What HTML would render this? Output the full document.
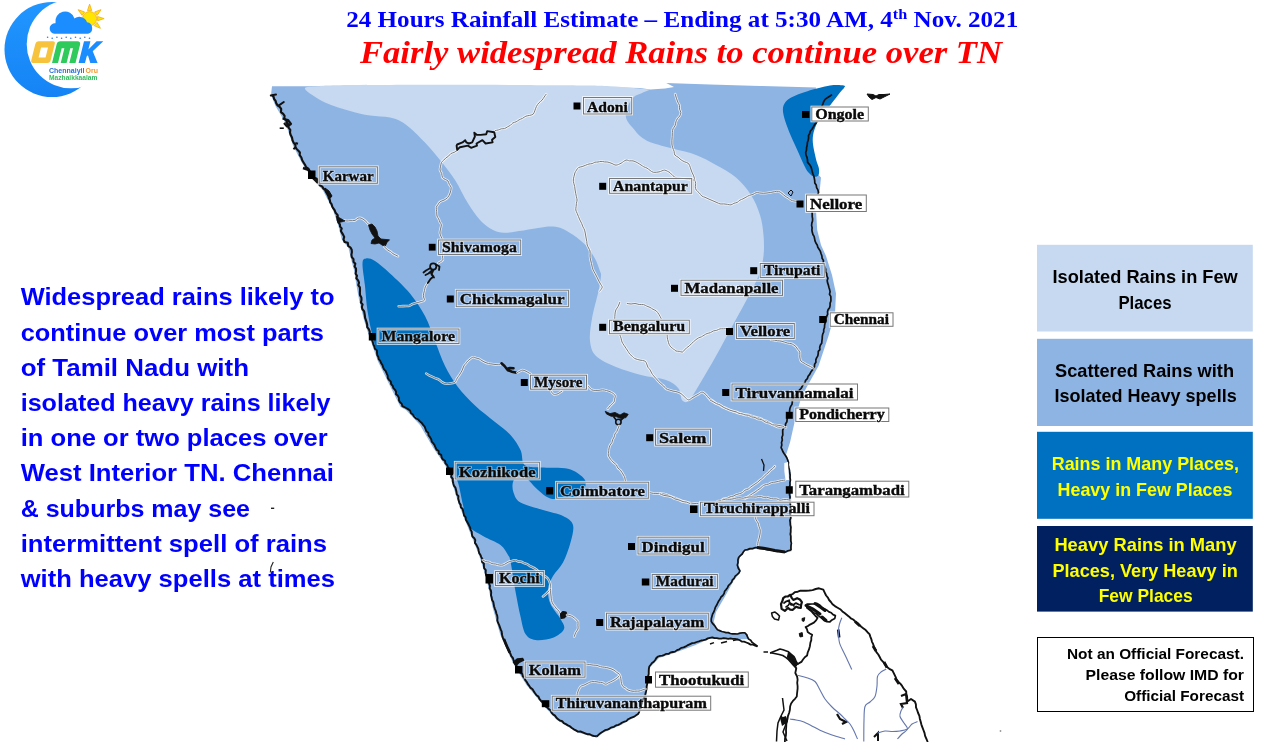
<!DOCTYPE html>
<html><head><meta charset="utf-8"><title>Rainfall Estimate</title>
<style>
html,body{margin:0;padding:0;background:#fff;}
body{width:1266px;height:745px;overflow:hidden;font-family:"Liberation Sans",sans-serif;}
svg{display:block;will-change:transform;}
text{font-family:"Liberation Sans",sans-serif;}
.sf{font-family:"Liberation Serif",serif;}
</style></head><body>
<svg width="1266" height="745" viewBox="0 0 1266 745">
<rect width="1266" height="745" fill="#fff"/>
<path d="M272.0 86.3 L305.0 86.3 L400.0 86.0 L560.0 86.0 L640.0 88.0 L650.4 89.6 L665.0 88.5 L674.0 87.0 L666.2 83.1 L710.0 84.6 L760.0 86.0 L816.0 87.5 L812.0 110.0 L808.0 130.0 L806.0 150.0 L810.0 166.0 L821.0 177.5 L819.8 190.0 L816.0 210.0 L817.2 230.0 L821.0 245.0 L826.0 256.0 L832.0 275.0 L836.0 293.5 L835.0 313.5 L828.5 336.0 L818.5 366.0 L806.0 388.5 L800.5 400.0 L795.5 418.0 L790.0 442.5 L786.0 455.0 L788.5 460.0 L791.0 475.0 L791.0 490.0 L791.5 525.0 L792.0 551.0 L785.0 553.0 L770.0 551.0 L757.5 548.5 L745.0 551.0 L739.8 557.5 L738.5 565.0 L741.0 571.0 L733.5 581.0 L725.0 596.5 L716.0 612.0 L713.8 621.5 L717.5 630.0 L735.0 634.0 L747.5 634.0 L749.0 639.0 L735.0 639.5 L710.0 638.5 L695.0 645.2 L675.0 652.8 L659.0 658.0 L650.2 667.0 L649.0 679.0 L646.5 694.0 L639.0 714.5 L621.0 725.0 L603.5 732.5 L596.8 737.5 L577.5 732.5 L557.0 720.0 L543.0 705.0 L526.5 685.0 L515.2 667.0 L509.0 654.5 L500.2 634.5 L492.5 607.0 L486.5 579.0 L479.0 555.0 L469.0 530.0 L459.0 505.0 L449.0 473.0 L445.0 465.0 L433.0 447.5 L420.0 425.0 L406.0 410.0 L400.5 407.0 L390.5 387.0 L378.0 361.5 L369.0 336.0 L364.0 320.0 L359.2 300.5 L356.5 285.5 L354.4 271.5 L351.2 259.7 L348.5 248.0 L341.9 239.8 L338.0 224.5 L333.0 210.0 L323.0 190.5 L310.5 176.0 L302.0 163.0 L293.0 145.5 L285.5 123.0 L275.5 106.0 L271.0 95.0Z" fill="#8eb4e3"/>
<path d="M305.0 89.0 C303.8 86.3 312.2 86.9 318.0 86.3 C323.8 85.7 318.0 85.5 340.0 85.2 C362.0 85.0 413.3 84.8 450.0 84.8 C486.7 84.8 533.3 85.1 560.0 85.3 C586.7 85.5 594.9 85.5 610.0 86.2 C625.1 86.9 643.7 89.0 650.4 89.6 C648.8 90.2 643.8 92.3 641.0 93.5 C638.2 94.7 635.8 95.0 633.8 96.9 C631.7 98.8 629.8 102.0 628.5 105.0 C627.2 108.0 625.9 112.2 625.8 115.0 C625.7 117.8 626.7 119.7 628.0 122.0 C629.3 124.3 631.8 126.7 633.8 129.0 C635.8 131.3 637.1 133.8 640.0 136.0 C642.9 138.2 645.4 140.4 651.0 142.5 C656.6 144.6 666.0 146.7 673.5 148.8 C681.0 150.8 688.9 152.3 696.0 155.0 C703.1 157.7 709.3 161.2 716.0 165.0 C722.7 168.8 730.2 172.5 736.0 177.5 C741.8 182.5 747.0 188.8 751.0 195.0 C755.0 201.2 757.9 208.3 760.0 215.0 C762.1 221.7 762.9 228.2 763.5 235.0 C764.1 241.8 764.3 249.2 763.5 256.0 C762.7 262.8 761.4 268.5 758.5 276.0 C755.6 283.5 750.6 292.2 746.0 301.0 C741.4 309.8 736.0 319.3 731.0 328.5 C726.0 337.7 721.4 346.4 716.0 356.0 C710.6 365.6 703.1 378.5 698.5 386.0 C693.9 393.5 691.2 398.7 688.5 401.0 C685.8 403.3 683.7 402.1 682.0 400.0 C680.3 397.9 681.2 391.8 678.5 388.5 C675.8 385.2 672.2 382.2 666.0 380.0 C659.8 377.8 649.3 377.2 641.0 375.0 C632.7 372.8 623.5 370.2 616.0 367.0 C608.5 363.8 600.3 360.3 596.0 356.0 C591.7 351.7 590.7 347.2 590.0 341.0 C589.3 334.8 590.6 326.8 592.0 318.5 C593.4 310.2 597.0 298.1 598.5 291.0 C600.0 283.9 600.8 279.4 601.0 276.0 C601.2 272.6 600.9 273.8 599.9 270.9 C598.9 267.9 597.1 262.5 594.8 258.3 C592.5 254.1 589.6 249.5 586.0 245.6 C582.4 241.7 577.5 237.8 573.3 234.9 C569.1 232.0 564.5 229.3 560.7 227.9 C556.9 226.5 554.4 226.4 550.6 226.4 C546.8 226.4 543.2 227.1 537.9 227.9 C532.6 228.7 524.6 230.3 519.0 231.1 C513.4 231.9 508.3 233.0 504.0 232.8 C499.7 232.6 497.0 232.1 493.0 230.0 C489.0 227.9 484.2 224.6 480.0 220.0 C475.8 215.4 471.7 209.2 467.5 202.5 C463.3 195.8 459.6 187.1 455.0 180.0 C450.4 172.9 445.0 166.2 440.0 160.0 C435.0 153.8 430.8 148.5 425.0 142.5 C419.2 136.5 410.8 128.2 405.0 124.0 C399.2 119.8 395.8 118.9 390.0 117.5 C384.2 116.1 376.7 116.6 370.0 115.5 C363.3 114.4 357.5 113.2 350.0 111.0 C342.5 108.8 332.5 106.2 325.0 102.5 C317.5 98.8 306.2 91.7 305.0 89.0Z" fill="#c6d9f1"/>
<path d="M366.0 258.5 C368.1 258.1 371.0 258.5 375.0 261.0 C379.0 263.5 384.2 268.1 390.0 273.5 C395.8 278.9 404.2 286.4 410.0 293.5 C415.8 300.6 420.8 308.1 425.0 316.0 C429.2 323.9 431.7 332.7 435.0 341.0 C438.3 349.3 441.2 358.4 445.0 366.0 C448.8 373.6 452.5 379.9 457.5 386.5 C462.5 393.1 468.8 399.6 475.0 405.5 C481.2 411.4 489.1 417.1 495.0 422.0 C500.9 426.9 506.2 430.3 510.5 435.0 C514.8 439.7 518.4 445.4 520.5 450.0 C522.6 454.6 521.8 459.8 523.0 462.5 C524.2 465.2 525.1 465.7 528.0 466.5 C530.9 467.3 533.8 467.1 540.5 467.5 C547.2 467.9 560.9 467.1 568.0 468.8 C575.1 470.4 580.1 474.8 583.0 477.5 C585.9 480.2 586.0 482.1 585.5 485.0 C585.0 487.9 584.6 492.7 580.0 495.0 C575.4 497.3 563.3 498.3 558.0 498.8 C552.7 499.2 551.3 499.0 548.0 497.5 C544.7 496.0 541.8 493.3 538.0 490.0 C534.2 486.7 528.8 479.8 525.5 477.5 C522.2 475.2 520.1 475.2 518.0 476.0 C515.9 476.8 513.8 479.2 513.0 482.0 C512.2 484.8 512.2 489.1 513.5 492.5 C514.8 495.9 515.6 499.6 520.5 502.5 C525.4 505.4 535.9 507.8 543.0 510.0 C550.1 512.2 558.0 513.5 563.0 516.0 C568.0 518.5 571.8 520.6 573.0 525.0 C574.2 529.4 572.2 536.2 570.5 542.5 C568.8 548.8 565.9 556.9 563.0 562.5 C560.1 568.1 555.5 571.6 553.0 576.0 C550.5 580.4 548.4 584.3 548.0 589.0 C547.6 593.7 548.4 599.0 550.5 604.0 C552.6 609.0 558.2 614.8 560.5 619.0 C562.8 623.2 565.2 625.9 564.0 629.0 C562.8 632.1 557.8 635.9 553.0 637.8 C548.2 639.6 540.1 640.6 535.5 640.0 C530.9 639.4 528.0 637.9 525.5 634.0 C523.0 630.1 522.2 623.6 520.5 616.5 C518.8 609.4 517.2 600.7 515.5 591.5 C513.8 582.3 511.8 567.6 510.5 561.5 C509.2 555.4 509.7 557.8 508.0 555.0 C506.3 552.2 504.7 548.2 500.5 545.0 C496.3 541.8 488.4 539.3 483.0 536.0 C477.6 532.7 471.3 530.2 468.0 525.0 C464.7 519.8 464.7 512.1 463.0 505.0 C461.3 497.9 459.8 488.0 458.0 482.5 C456.2 477.0 453.8 474.9 452.0 472.0 C450.2 469.1 449.8 469.1 447.0 465.0 C444.2 460.9 439.5 454.2 435.5 447.5 C431.5 440.8 427.6 431.4 423.0 425.0 C418.4 418.6 411.4 412.2 408.0 409.0 C404.6 405.8 405.1 409.8 402.5 406.0 C399.9 402.2 396.2 393.5 392.5 386.0 C388.8 378.5 383.3 369.3 380.0 361.0 C376.7 352.7 374.6 344.3 372.5 336.0 C370.4 327.7 368.8 319.3 367.5 311.0 C366.2 302.7 365.8 293.9 365.0 286.0 C364.2 278.1 362.3 268.1 362.5 263.5 C362.7 258.9 363.9 258.9 366.0 258.5Z" fill="#0070c0"/>
<path d="M843.8 85.6 C841.4 85.2 836.0 84.7 830.0 85.6 C824.0 86.5 814.0 89.3 807.5 91.2 C801.0 93.2 795.1 95.4 791.2 97.5 C787.4 99.6 785.8 101.2 784.4 103.8 C783.0 106.2 782.6 108.5 783.1 112.5 C783.6 116.5 785.5 122.1 787.5 127.5 C789.5 132.9 792.2 138.8 795.0 145.0 C797.8 151.2 801.8 160.4 804.0 165.0 C806.2 169.6 806.9 170.6 808.5 172.5 C810.1 174.4 811.9 176.0 813.5 176.5 C815.1 177.0 817.4 176.8 818.3 175.5 C819.2 174.2 819.3 171.6 819.0 169.0 C818.7 166.4 817.2 164.0 816.2 160.0 C815.3 156.0 813.6 149.2 813.1 145.0 C812.6 140.8 812.6 138.3 813.1 135.0 C813.6 131.7 814.8 128.3 816.2 125.0 C817.7 121.7 819.7 118.2 822.0 115.0 C824.3 111.8 827.0 109.3 830.0 105.6 C833.0 101.8 837.7 95.4 840.0 92.5 C842.3 89.6 843.4 89.2 844.0 88.0 C844.6 86.8 846.1 86.0 843.8 85.6Z" fill="#0070c0"/>
<path d="M272.0 95.0 L273.6 96.7 L274.1 99.0 L275.6 100.9 L276.2 103.1 L277.4 105.1 L279.7 106.8 L281.2 108.9 L281.0 112.1 L283.2 113.9 L284.6 115.9 L284.3 118.8 L286.4 120.3 L287.2 122.6 L288.3 125.0 L288.6 127.6 L290.3 129.8 L290.0 132.6 L290.7 135.1 L292.0 137.5 L292.5 140.2 L293.6 142.6 L295.4 144.9 L295.5 147.3 L296.8 149.1 L298.4 150.8 L299.9 152.5 L299.7 155.1 L301.4 157.5 L302.2 160.2 L303.7 162.7 L305.0 164.8 L306.1 167.2 L308.4 168.6 L309.1 171.2 L311.2 172.8 L312.2 175.2 L313.5 177.5 L316.4 178.4 L318.0 180.5 L319.2 182.8 L319.7 185.4 L322.1 186.4 L323.3 188.4 L325.1 189.9 L326.0 192.0 L327.2 193.9 L328.3 195.9 L328.8 198.1 L329.9 200.0 L330.2 202.4 L331.6 204.2 L332.2 206.4 L333.3 208.4 L334.6 210.2 L335.6 212.8 L337.7 215.1 L337.7 218.1 L337.7 220.4 L338.5 222.5 L339.9 224.3 L340.1 226.6 L341.7 228.4 L340.9 230.9 L342.0 232.9 L343.2 234.9 L344.2 236.9 L343.5 239.4 L344.6 242.0 L347.8 242.8 L348.2 245.9 L350.5 247.5 L351.7 249.7 L351.9 252.1 L351.4 254.7 L351.8 257.1 L353.5 259.2 L353.5 261.7 L355.3 263.8 L354.6 266.5 L356.0 268.6 L356.0 271.2 L355.6 273.6 L357.0 275.8 L356.3 278.3 L358.1 280.4 L359.0 282.6 L358.3 285.1 L359.9 287.4 L360.0 290.0 L359.9 292.6 L360.0 295.1 L361.4 297.5 L361.5 300.0 L360.9 302.5 L362.6 304.4 L361.8 307.0 L362.4 309.2 L364.1 311.1 L364.5 313.3 L364.9 315.6 L365.1 317.9 L365.9 320.0 L366.6 322.3 L367.2 324.7 L367.2 327.1 L368.8 329.1 L369.7 331.4 L369.8 333.9 L371.2 335.9" fill="none" stroke="#111" stroke-width="2.1" stroke-linejoin="round"/>
<path d="M371.0 336.0 L371.6 338.1 L372.2 340.3 L372.9 342.4 L373.4 344.5 L374.4 346.5 L374.9 348.7 L376.9 350.4 L377.0 352.7 L377.2 355.0 L378.3 356.9 L378.7 359.1 L380.2 360.9 L381.1 363.1 L382.4 365.0 L383.1 367.3 L384.1 369.4 L385.8 371.1 L386.6 373.3 L387.6 375.4 L387.8 377.9 L389.0 379.9 L390.8 381.6 L391.1 384.1 L392.7 385.9 L393.4 388.1 L395.0 389.8 L396.1 391.7 L396.0 394.2 L397.9 395.8 L398.9 397.8 L398.9 400.3 L400.0 402.2 L401.8 403.9 L402.3 406.1 L405.2 407.5 L408.0 409.1 L410.0 410.5 L410.9 413.0 L412.8 414.5 L414.2 416.6 L415.9 418.3 L418.2 419.5 L419.8 421.3 L421.7 422.9 L423.1 424.9 L424.7 426.7 L425.5 429.0 L426.3 431.2 L428.2 432.8 L428.5 435.3 L430.0 437.2 L431.2 439.2 L431.7 441.6 L433.3 443.4 L434.6 445.3 L435.5 447.5 L436.5 449.6 L438.6 451.0 L438.8 453.7 L441.2 454.9 L441.6 457.4 L442.8 459.4 L445.0 460.7 L445.4 463.3 L447.1 465.0 L448.1 467.5 L450.0 469.7 L450.7 472.4 L451.6 474.5 L451.2 477.0 L452.9 478.9 L452.8 481.3 L453.3 483.5 L453.9 485.7 L455.4 487.6 L456.0 489.8 L456.5 492.0 L456.8 494.3 L458.4 496.2 L458.2 498.6 L458.8 500.8 L459.4 503.0 L460.7 504.9 L460.8 507.3 L462.7 509.0 L463.2 511.2 L463.7 513.4 L464.1 515.6 L465.7 517.4 L465.8 519.8 L467.1 521.7 L468.2 523.7 L469.1 525.7 L470.1 527.7 L470.7 529.9 L471.8 531.9 L471.9 534.3 L472.4 536.5 L474.3 538.2 L475.3 540.2 L474.9 542.8 L476.3 544.6 L477.3 546.6 L478.3 548.6 L478.7 550.9 L479.2 553.1 L480.5 555.0 L481.3 557.1 L482.5 559.2 L482.0 561.7 L483.9 563.5 L483.9 565.9 L484.1 568.2 L485.8 570.1 L485.6 572.6 L486.0 574.8 L487.1 576.9 L487.8 579.0 L489.1 581.2 L489.1 583.6 L490.0 585.8 L489.6 588.3 L490.9 590.4 L491.2 592.7 L491.0 595.2 L491.7 597.4 L492.0 599.8 L493.3 601.9 L493.7 604.2 L494.1 606.5 L494.9 608.8 L495.8 611.0 L496.3 613.3 L497.2 615.5 L497.5 617.9 L497.3 620.4 L498.0 622.7 L499.1 624.9 L499.9 627.1 L500.7 629.4 L501.7 631.6 L501.9 634.0 L502.4 636.4 L503.2 638.7 L504.8 640.6 L505.3 643.0 L506.3 645.3 L507.3 647.4 L508.3 649.6 L509.2 651.9 L510.6 654.0 L511.3 656.2 L512.9 658.0 L513.6 660.2 L514.3 662.5 L515.5 664.5 L516.9 666.4 L517.5 668.8 L519.1 670.5 L520.4 672.4 L522.3 673.9 L522.9 676.3 L524.5 678.0 L525.3 680.2 L526.8 682.0 L527.9 684.1 L529.3 685.9 L530.6 687.9 L532.6 689.3 L533.8 691.4 L535.1 693.3 L536.5 695.2 L538.5 696.6 L539.4 698.8 L540.9 700.7 L542.6 702.3 L544.0 704.2 L545.3 706.1 L547.3 707.4 L548.8 709.0 L550.7 710.4 L551.5 712.7 L553.0 714.4 L555.0 715.6 L556.3 717.5 L557.9 719.1 L559.8 720.5 L562.2 721.1 L563.8 723.1 L565.9 724.1 L567.9 725.4 L570.1 726.4 L571.9 727.9 L573.8 729.3 L575.9 730.4 L577.9 731.6 L580.5 731.5 L582.8 732.3 L585.1 733.3 L587.3 734.2 L589.8 734.2 L592.0 735.5 L594.4 736.1 L596.8 736.3" fill="none" stroke="#111" stroke-width="1.9" stroke-linejoin="round"/>
<path d="M596.8 736.5 L598.7 734.7 L600.7 732.9 L603.0 731.5 L605.0 730.2 L607.4 729.7 L609.5 728.6 L611.6 727.3 L613.9 726.8 L615.9 725.4 L618.3 724.9 L620.4 723.8 L622.2 722.5 L624.4 721.7 L626.5 721.0 L628.1 719.2 L630.1 718.2 L632.2 717.4 L634.3 716.6 L636.1 715.2 L638.0 714.0 L639.3 711.9 L639.2 709.4 L640.8 707.5 L641.1 705.0 L641.8 702.8 L642.6 700.5 L643.7 698.4 L645.0 696.3 L645.4 694.0 L646.0 691.5 L646.5 689.0 L646.6 686.5 L647.2 684.0 L647.2 681.4 L647.8 679.0 L648.0 676.5 L648.7 674.0 L648.7 671.5 L648.8 669.0 L649.3 666.5 L650.7 664.8 L652.0 663.0 L653.8 661.7 L655.2 660.0 L656.3 658.0 L658.0 656.5 L660.1 655.9 L662.4 655.6 L664.4 654.8 L666.4 653.8 L668.8 653.8 L670.6 652.4 L672.9 652.0 L675.0 651.6 L677.0 650.1 L679.3 649.3 L681.2 647.9 L683.6 647.4 L685.8 646.4 L687.9 645.1 L690.1 644.1 L692.2 643.1 L694.5 642.8 L696.7 642.0 L698.9 641.3 L701.1 640.5 L703.4 640.2 L705.7 639.6 L707.8 638.4 L710.0 637.8 L712.3 637.4 L714.5 638.2 L716.8 638.2 L719.1 638.7 L721.3 638.6 L723.6 638.2 L725.9 638.4 L728.2 638.8 L730.5 638.3 L732.7 638.8 L735.0 638.9 L737.4 639.4 L739.6 640.1 L741.7 641.5 L744.1 641.6 L746.3 642.5 L748.5 643.4 L750.6 644.6 L753.1 644.6 L755.3 645.7 L757.5 646.5" fill="none" stroke="#111" stroke-width="1.8" stroke-linejoin="round"/>
<path d="M757.5 646.5 L755.7 645.0 L753.9 643.6 L752.0 642.3 L750.7 640.2 L748.6 639.1 L747.5 636.9 L746.6 634.6 L744.9 632.8 L742.5 632.9 L740.0 633.1 L737.5 634.0 L735.0 633.9 L732.5 633.9 L730.3 633.5 L728.3 632.6 L726.0 632.6 L723.9 632.0 L721.7 631.5 L719.6 630.6 L717.5 629.8 L716.0 627.8 L714.6 625.6 L712.7 623.7 L711.3 621.4 L711.3 618.9 L711.9 616.5 L712.6 614.0 L713.8 612.0 L714.6 609.7 L715.3 607.4 L716.6 605.3 L717.6 603.2 L718.7 601.0 L720.1 599.1 L721.0 597.0 L722.8 595.5 L724.1 593.6 L724.6 591.3 L726.1 589.6 L727.5 587.7 L728.4 585.6 L730.0 584.0 L731.6 582.2 L732.4 579.9 L734.1 578.3 L735.2 576.2 L737.1 574.7 L738.8 573.1 L739.9 570.9 L738.3 568.2 L737.3 565.1 L738.0 562.5 L737.9 559.9 L738.6 557.5 L740.3 555.6 L742.2 554.0 L743.4 551.8 L745.0 550.0 L747.5 549.6 L749.9 548.6 L752.5 548.6 L754.9 547.7 L757.5 547.5 L759.9 548.4 L762.6 548.1 L765.0 549.1 L767.5 549.6 L770.0 549.9 L772.5 550.1 L774.9 551.2 L777.4 551.5 L780.1 551.0 L782.5 551.9 L785.0 552.2 L787.9 550.8 L791.0 550.0" fill="none" stroke="#111" stroke-width="1.7" stroke-linejoin="round"/>
<path d="M791.0 550.0 L790.9 547.7 L791.0 545.5 L791.4 543.2 L790.8 540.9 L790.8 538.6 L790.8 536.4 L790.3 534.1 L790.7 531.8 L790.7 529.5 L790.9 527.3 L790.3 525.0 L790.2 522.7 L789.9 520.3 L790.8 518.0 L790.6 515.7 L789.8 513.3 L790.9 511.0 L790.8 508.7 L790.4 506.3 L790.3 504.0 L789.8 501.7 L789.6 499.3 L790.1 497.0 L789.5 494.7 L789.7 492.3 L789.9 490.0 L789.4 487.5 L790.0 485.0 L789.9 482.5 L790.4 480.0 L790.0 477.5 L790.1 475.0 L789.6 472.5 L789.4 470.0 L788.7 467.5 L788.1 465.0 L788.5 462.4 L787.7 460.0 L786.8 457.7 L785.6 455.7 L784.2 453.8 L783.0 451.8 L782.1 449.7 L781.1 447.6 L781.8 445.0 L781.5 442.5 L782.3 440.0 L781.9 437.5 L782.8 435.0 L782.7 432.5 L782.7 430.1 L783.7 428.0 L785.3 426.1 L785.6 423.7 L786.9 421.8 L787.1 419.3 L787.5 417.0 L788.8 415.0 L789.6 412.9 L789.6 410.6 L789.9 408.5 L790.7 406.4 L792.0 404.4 L792.3 402.2 L792.3 400.0 L793.7 397.9 L794.9 395.9 L796.3 393.9 L798.5 392.5 L799.3 390.2 L801.0 388.5 L802.2 386.5 L803.2 384.3 L805.0 382.6 L805.6 380.3 L807.4 378.6 L808.1 376.3 L809.7 374.4 L810.7 372.3 L812.0 370.4 L813.7 368.6 L814.5 366.5 L814.6 364.2 L815.9 362.3 L815.8 359.9 L816.6 357.9 L817.8 355.9 L818.2 353.7 L818.3 351.4 L819.9 349.6 L819.7 347.2 L820.4 345.1 L821.7 343.2 L821.9 341.0 L822.2 338.7 L822.3 336.4 L822.7 334.2 L823.7 332.0 L823.7 329.7 L824.5 327.5 L824.6 325.2 L825.1 323.0 L826.1 320.8 L826.0 318.5 L826.7 316.3 L827.7 314.2 L827.5 311.8 L828.1 309.6 L829.6 307.7 L830.1 305.5 L830.1 303.1 L830.9 301.0 L830.9 298.7 L830.8 296.4 L829.5 294.2 L830.1 291.8 L829.6 289.6 L828.9 287.3 L828.4 285.1 L827.6 282.9 L827.2 280.6 L827.9 278.2 L826.9 276.0 L826.7 273.7 L825.6 271.6 L825.7 269.2 L824.9 267.1 L824.0 264.9 L823.3 262.8 L823.4 260.4 L822.1 258.3 L821.9 256.0 L821.1 253.8 L820.4 251.4 L819.1 249.3 L817.8 247.3 L817.2 244.9 L815.9 243.0 L815.0 240.9 L814.6 238.7 L814.1 236.4 L812.9 234.5 L812.3 232.3 L811.9 230.0 L812.1 227.8 L811.6 225.6 L811.8 223.3 L812.5 221.1 L812.6 218.9 L812.2 216.7 L812.2 214.4 L812.1 212.2 L811.8 210.0 L812.3 207.6 L813.1 205.4 L814.9 203.6 L815.5 201.3 L816.6 199.3 L816.3 196.7 L817.8 194.7 L818.5 192.5 L817.9 189.9 L816.6 187.6 L816.2 184.9 L814.8 182.9 L814.7 180.5 L814.3 178.3 L813.8 176.0 L812.9 173.8 L812.2 171.6 L811.7 169.3 L811.1 167.1 L809.9 165.0 L807.6 162.4 L807.5 159.9 L807.0 157.4 L806.0 155.0 L805.7 152.5 L806.5 150.1 L806.6 147.5 L807.2 145.0 L807.4 142.5 L808.1 140.3 L808.6 138.0 L808.5 135.6 L809.7 133.5 L810.2 131.3 L811.9 129.3 L813.3 127.0 L814.6 124.6 L816.3 122.6 L817.1 120.2 L817.8 117.8 L819.1 115.7 L819.0 113.1 L820.6 111.0 L820.6 108.4 L821.9 106.3 L822.9 104.0 L823.7 101.5 L825.1 99.4 L827.3 97.7 L829.7 96.2 L832.0 94.6" fill="none" stroke="#111" stroke-width="1.7" stroke-linejoin="round"/>
<path d="M784.3 463 L788 462 L789 480 L785.5 480 L784.3 471Z" fill="#fff"/>
<path d="M546.2 94.2 C545.9 94.7 544.7 96.1 544.1 97.1 C543.4 98.0 543.0 99.1 542.1 100.1 C541.3 101.0 539.9 101.8 538.9 102.9 C538.0 103.9 537.1 105.1 536.5 106.3 C535.8 107.5 535.6 108.9 535.0 110.2 C534.5 111.5 534.2 113.1 533.3 114.0 C532.5 114.8 531.0 115.0 529.7 115.4 C528.5 115.7 527.1 115.7 525.9 116.2 C524.7 116.7 523.7 117.6 522.6 118.3 C521.4 118.9 520.0 119.3 519.0 119.9 C517.9 120.5 517.2 121.3 516.1 121.8 C515.1 122.3 513.9 122.3 512.9 122.9 C511.9 123.5 511.3 124.6 510.4 125.3 C509.5 125.9 508.4 126.4 507.4 126.9 C506.5 127.5 505.5 128.2 504.5 128.6 C503.5 128.9 502.3 128.6 501.3 128.8 C500.3 129.0 499.4 129.7 498.4 129.9 C497.4 130.2 495.8 130.4 495.3 130.5" fill="none" stroke="#fff" stroke-width="2.6" stroke-opacity="0.75" stroke-linecap="round" stroke-linejoin="round"/>
<path d="M546.2 94.2 C545.9 94.7 544.7 96.1 544.1 97.1 C543.4 98.0 543.0 99.1 542.1 100.1 C541.3 101.0 539.9 101.8 538.9 102.9 C538.0 103.9 537.1 105.1 536.5 106.3 C535.8 107.5 535.6 108.9 535.0 110.2 C534.5 111.5 534.2 113.1 533.3 114.0 C532.5 114.8 531.0 115.0 529.7 115.4 C528.5 115.7 527.1 115.7 525.9 116.2 C524.7 116.7 523.7 117.6 522.6 118.3 C521.4 118.9 520.0 119.3 519.0 119.9 C517.9 120.5 517.2 121.3 516.1 121.8 C515.1 122.3 513.9 122.3 512.9 122.9 C511.9 123.5 511.3 124.6 510.4 125.3 C509.5 125.9 508.4 126.4 507.4 126.9 C506.5 127.5 505.5 128.2 504.5 128.6 C503.5 128.9 502.3 128.6 501.3 128.8 C500.3 129.0 499.4 129.7 498.4 129.9 C497.4 130.2 495.8 130.4 495.3 130.5" fill="none" stroke="#7a7a7a" stroke-width="1" stroke-linecap="round" stroke-linejoin="round"/>
<path d="M457.2 150.4 C456.7 150.7 455.2 151.9 454.1 152.4 C453.0 152.9 451.6 153.0 450.7 153.7 C449.8 154.3 449.4 155.4 448.6 156.1 C447.8 156.8 446.8 157.3 445.9 157.9 C445.1 158.6 444.4 159.4 443.7 160.2 C442.9 160.9 442.0 161.5 441.5 162.5 C441.0 163.5 440.9 165.0 440.6 166.2 C440.4 167.5 439.8 168.8 440.0 170.0 C440.2 171.2 441.3 172.3 441.7 173.6 C442.1 174.8 441.9 176.5 442.5 177.5 C443.1 178.5 444.3 178.8 445.2 179.4 C446.1 179.9 447.3 180.2 448.0 181.0 C448.7 181.9 448.7 183.3 449.3 184.4 C449.8 185.5 451.0 186.1 451.2 187.5 C451.3 189.0 450.6 191.3 450.1 193.0 C449.5 194.7 448.6 196.4 447.6 197.6 C446.6 198.7 445.2 199.4 444.0 200.1 C442.7 200.8 440.9 201.1 439.9 201.9 C438.9 202.6 438.6 203.7 438.0 204.6 C437.3 205.6 436.4 206.3 436.2 207.5 C436.0 208.7 436.6 210.3 436.7 211.7 C436.8 213.2 436.7 214.8 437.0 216.0 C437.3 217.2 438.2 217.9 438.7 218.9 C439.2 219.9 439.4 221.0 439.8 222.0 C440.3 223.0 441.3 223.8 441.4 224.9 C441.5 226.1 440.7 227.6 440.5 229.0 C440.3 230.3 439.8 231.7 439.9 233.0 C440.0 234.3 440.6 235.4 441.1 236.6 C441.5 237.7 442.2 238.7 442.6 240.0 C443.0 241.2 443.3 242.6 443.4 243.9 C443.6 245.3 443.7 246.8 443.6 248.0 C443.5 249.2 443.0 250.0 442.9 251.0 C442.7 252.0 442.8 253.0 442.7 254.0 C442.6 255.0 442.4 256.0 442.4 257.0 C442.4 258.0 443.4 259.0 442.7 260.0 C442.1 261.0 439.1 262.5 438.4 263.0" fill="none" stroke="#fff" stroke-width="2.6" stroke-opacity="0.75" stroke-linecap="round" stroke-linejoin="round"/>
<path d="M457.2 150.4 C456.7 150.7 455.2 151.9 454.1 152.4 C453.0 152.9 451.6 153.0 450.7 153.7 C449.8 154.3 449.4 155.4 448.6 156.1 C447.8 156.8 446.8 157.3 445.9 157.9 C445.1 158.6 444.4 159.4 443.7 160.2 C442.9 160.9 442.0 161.5 441.5 162.5 C441.0 163.5 440.9 165.0 440.6 166.2 C440.4 167.5 439.8 168.8 440.0 170.0 C440.2 171.2 441.3 172.3 441.7 173.6 C442.1 174.8 441.9 176.5 442.5 177.5 C443.1 178.5 444.3 178.8 445.2 179.4 C446.1 179.9 447.3 180.2 448.0 181.0 C448.7 181.9 448.7 183.3 449.3 184.4 C449.8 185.5 451.0 186.1 451.2 187.5 C451.3 189.0 450.6 191.3 450.1 193.0 C449.5 194.7 448.6 196.4 447.6 197.6 C446.6 198.7 445.2 199.4 444.0 200.1 C442.7 200.8 440.9 201.1 439.9 201.9 C438.9 202.6 438.6 203.7 438.0 204.6 C437.3 205.6 436.4 206.3 436.2 207.5 C436.0 208.7 436.6 210.3 436.7 211.7 C436.8 213.2 436.7 214.8 437.0 216.0 C437.3 217.2 438.2 217.9 438.7 218.9 C439.2 219.9 439.4 221.0 439.8 222.0 C440.3 223.0 441.3 223.8 441.4 224.9 C441.5 226.1 440.7 227.6 440.5 229.0 C440.3 230.3 439.8 231.7 439.9 233.0 C440.0 234.3 440.6 235.4 441.1 236.6 C441.5 237.7 442.2 238.7 442.6 240.0 C443.0 241.2 443.3 242.6 443.4 243.9 C443.6 245.3 443.7 246.8 443.6 248.0 C443.5 249.2 443.0 250.0 442.9 251.0 C442.7 252.0 442.8 253.0 442.7 254.0 C442.6 255.0 442.4 256.0 442.4 257.0 C442.4 258.0 443.4 259.0 442.7 260.0 C442.1 261.0 439.1 262.5 438.4 263.0" fill="none" stroke="#7a7a7a" stroke-width="1" stroke-linecap="round" stroke-linejoin="round"/>
<path d="M427.7 283.0 C427.3 283.6 425.8 285.7 425.3 286.9 C424.8 288.1 424.9 288.9 424.5 290.4 C424.2 291.9 423.3 294.2 423.3 295.8 C423.3 297.4 424.9 299.1 424.4 300.1 C423.9 301.1 421.5 301.4 420.0 301.9 C418.6 302.4 417.2 302.6 415.9 303.0 C414.7 303.3 413.7 303.6 412.6 304.0 C411.5 304.5 410.5 305.3 409.5 305.7 C408.4 306.0 407.3 305.9 406.2 306.0 C405.1 306.1 404.2 306.1 403.0 306.1 C401.7 306.2 399.4 306.3 398.7 306.3" fill="none" stroke="#fff" stroke-width="2.6" stroke-opacity="0.75" stroke-linecap="round" stroke-linejoin="round"/>
<path d="M427.7 283.0 C427.3 283.6 425.8 285.7 425.3 286.9 C424.8 288.1 424.9 288.9 424.5 290.4 C424.2 291.9 423.3 294.2 423.3 295.8 C423.3 297.4 424.9 299.1 424.4 300.1 C423.9 301.1 421.5 301.4 420.0 301.9 C418.6 302.4 417.2 302.6 415.9 303.0 C414.7 303.3 413.7 303.6 412.6 304.0 C411.5 304.5 410.5 305.3 409.5 305.7 C408.4 306.0 407.3 305.9 406.2 306.0 C405.1 306.1 404.2 306.1 403.0 306.1 C401.7 306.2 399.4 306.3 398.7 306.3" fill="none" stroke="#7a7a7a" stroke-width="1" stroke-linecap="round" stroke-linejoin="round"/>
<path d="M457.2 149.9 L456.6 145.6 L457.2 144.5 L462.5 142.4 L465.2 140.2 L466.3 142.4 L469.0 143.5 L472.2 142.4 L474.9 136.5 L474.3 132.7 L477.0 134.9 L480.8 134.9 L486.2 134.3 L487.2 131.1 L494.2 132.2 L495.3 137.0 L492.0 139.7 L492.6 142.4 L485.6 143.5 L482.4 140.2 L476.5 143.5 L477.0 145.6 L471.1 147.8 L467.9 145.6 L459.9 147.2Z" fill="none" stroke="#111" stroke-width="1.9" stroke-linejoin="round"/>
<circle cx="433.2" cy="266.5" r="3.1" fill="none" stroke="#111" stroke-width="1.7"/>
<path d="M436 264.5 L439.5 266.5 L439 270 M430.5 268 L426 270.5 L423.5 272.5 M432.5 270 L428.5 273.5 L425.5 275 M433.5 270 L431.5 274.5 L433.5 276.5 L430.5 279 L427.8 283 M431 273 L434 277.5" fill="none" stroke="#111" stroke-width="1.8" stroke-linejoin="round" stroke-linecap="round"/>
<path d="M344.0 220.5 C344.5 220.6 346.0 221.0 347.0 221.0 C348.0 221.0 348.7 220.8 350.0 220.7 C351.3 220.6 353.7 220.8 355.0 220.4 C356.3 220.0 356.9 218.6 357.9 218.2 C358.9 217.8 359.8 217.7 361.0 218.1 C362.2 218.5 363.6 219.5 365.0 220.6 C366.3 221.7 368.2 223.9 368.9 224.6" fill="none" stroke="#fff" stroke-width="2.6" stroke-opacity="0.75" stroke-linecap="round" stroke-linejoin="round"/>
<path d="M344.0 220.5 C344.5 220.6 346.0 221.0 347.0 221.0 C348.0 221.0 348.7 220.8 350.0 220.7 C351.3 220.6 353.7 220.8 355.0 220.4 C356.3 220.0 356.9 218.6 357.9 218.2 C358.9 217.8 359.8 217.7 361.0 218.1 C362.2 218.5 363.6 219.5 365.0 220.6 C366.3 221.7 368.2 223.9 368.9 224.6" fill="none" stroke="#7a7a7a" stroke-width="1" stroke-linecap="round" stroke-linejoin="round"/>
<path d="M368.5 225.0 L372.0 224.0 L375.0 227.0 L377.0 231.0 L378.0 236.0 L381.0 239.0 L386.0 239.5 L389.5 239.8 L387.0 242.5 L385.0 246.5 L382.0 245.0 L379.0 243.0 L375.0 244.0 L371.0 243.5 L372.0 240.0 L375.0 238.0 L372.0 234.0 L370.0 230.0Z" fill="#111" stroke="#111" stroke-width="0.8" stroke-linejoin="round"/>
<path d="M384.5 246.9 C385.1 247.4 386.9 249.3 387.9 250.1 C388.9 250.9 389.8 251.0 390.6 251.6 C391.4 252.2 391.7 252.8 392.9 253.6 C394.1 254.4 397.1 255.7 397.9 256.2" fill="none" stroke="#fff" stroke-width="2.6" stroke-opacity="0.75" stroke-linecap="round" stroke-linejoin="round"/>
<path d="M384.5 246.9 C385.1 247.4 386.9 249.3 387.9 250.1 C388.9 250.9 389.8 251.0 390.6 251.6 C391.4 252.2 391.7 252.8 392.9 253.6 C394.1 254.4 397.1 255.7 397.9 256.2" fill="none" stroke="#7a7a7a" stroke-width="1" stroke-linecap="round" stroke-linejoin="round"/>
<path d="M675.2 94.2 C675.4 94.9 676.0 96.9 676.4 98.2 C676.8 99.5 677.3 100.9 677.8 102.1 C678.4 103.3 679.2 104.2 679.5 105.4 C679.8 106.5 679.3 107.9 679.5 109.1 C679.8 110.3 680.8 111.4 680.9 112.5 C680.9 113.7 680.3 114.9 679.8 115.9 C679.2 116.9 678.0 117.7 677.4 118.7 C676.7 119.7 676.3 120.8 675.9 121.9 C675.5 123.1 675.6 124.5 675.1 125.6 C674.6 126.8 673.5 127.7 673.0 128.8 C672.6 130.0 672.4 131.3 672.3 132.5 C672.2 133.8 672.3 135.1 672.2 136.3 C672.2 137.6 672.0 138.9 671.9 140.2 C671.9 141.4 671.8 142.7 671.9 144.0 C672.0 145.3 672.3 146.5 672.7 147.7 C673.0 148.9 673.7 150.1 674.1 151.3 C674.4 152.5 674.1 154.0 674.8 155.0 C675.4 156.0 677.1 156.4 678.1 157.2 C679.2 158.0 680.0 159.1 681.1 159.9 C682.2 160.7 683.5 161.3 684.8 161.9 C686.0 162.5 687.6 162.6 688.6 163.6 C689.5 164.6 689.9 166.4 690.4 167.8 C691.0 169.2 691.3 170.7 691.9 172.1 C692.4 173.4 693.2 174.6 693.7 175.9 C694.2 177.2 694.5 178.8 694.8 180.0 C695.1 181.2 695.6 182.2 695.7 183.3 C695.8 184.4 695.2 185.6 695.3 186.7 C695.4 187.8 695.5 189.0 696.2 190.0 C696.8 191.0 698.3 191.7 699.2 192.8 C700.2 193.8 701.0 195.3 701.9 196.1 C702.9 196.8 704.0 196.8 705.0 197.3 C706.0 197.7 707.0 198.3 708.0 198.7 C709.0 199.2 710.0 199.6 711.0 200.0 C712.0 200.5 713.0 200.9 714.0 201.3 C715.0 201.8 716.0 202.2 717.0 202.6 C718.0 203.0 719.0 203.6 720.1 203.9 C721.2 204.1 722.5 203.9 723.7 203.9 C724.9 204.0 726.1 204.2 727.4 204.3 C728.6 204.5 729.9 205.1 731.0 204.9 C732.1 204.7 732.9 203.7 733.9 203.3 C734.9 202.9 736.2 202.9 737.2 202.4 C738.2 201.9 738.9 200.8 739.9 200.2 C740.8 199.6 741.9 199.4 742.9 198.9 C744.0 198.3 745.1 197.7 746.1 197.1 C747.2 196.6 748.2 195.8 749.3 195.4 C750.4 194.9 751.8 194.9 752.9 194.4 C754.0 194.0 755.0 192.9 756.1 192.7 C757.2 192.4 758.4 192.8 759.7 193.0 C760.9 193.1 762.1 193.3 763.3 193.3 C764.5 193.3 765.7 193.2 767.0 193.0 C768.3 192.9 769.6 192.6 770.8 192.4 C772.1 192.1 773.4 191.9 774.6 191.7 C775.9 191.5 777.3 191.0 778.5 191.3 C779.7 191.6 780.8 192.6 781.9 193.4 C783.0 194.2 784.0 195.3 785.0 196.0 C786.0 196.8 787.1 197.2 788.1 197.9 C789.1 198.6 790.0 199.5 791.0 200.1 C792.0 200.6 793.0 200.8 794.0 201.0 C795.1 201.2 796.7 201.3 797.2 201.3" fill="none" stroke="#fff" stroke-width="2.6" stroke-opacity="0.75" stroke-linecap="round" stroke-linejoin="round"/>
<path d="M675.2 94.2 C675.4 94.9 676.0 96.9 676.4 98.2 C676.8 99.5 677.3 100.9 677.8 102.1 C678.4 103.3 679.2 104.2 679.5 105.4 C679.8 106.5 679.3 107.9 679.5 109.1 C679.8 110.3 680.8 111.4 680.9 112.5 C680.9 113.7 680.3 114.9 679.8 115.9 C679.2 116.9 678.0 117.7 677.4 118.7 C676.7 119.7 676.3 120.8 675.9 121.9 C675.5 123.1 675.6 124.5 675.1 125.6 C674.6 126.8 673.5 127.7 673.0 128.8 C672.6 130.0 672.4 131.3 672.3 132.5 C672.2 133.8 672.3 135.1 672.2 136.3 C672.2 137.6 672.0 138.9 671.9 140.2 C671.9 141.4 671.8 142.7 671.9 144.0 C672.0 145.3 672.3 146.5 672.7 147.7 C673.0 148.9 673.7 150.1 674.1 151.3 C674.4 152.5 674.1 154.0 674.8 155.0 C675.4 156.0 677.1 156.4 678.1 157.2 C679.2 158.0 680.0 159.1 681.1 159.9 C682.2 160.7 683.5 161.3 684.8 161.9 C686.0 162.5 687.6 162.6 688.6 163.6 C689.5 164.6 689.9 166.4 690.4 167.8 C691.0 169.2 691.3 170.7 691.9 172.1 C692.4 173.4 693.2 174.6 693.7 175.9 C694.2 177.2 694.5 178.8 694.8 180.0 C695.1 181.2 695.6 182.2 695.7 183.3 C695.8 184.4 695.2 185.6 695.3 186.7 C695.4 187.8 695.5 189.0 696.2 190.0 C696.8 191.0 698.3 191.7 699.2 192.8 C700.2 193.8 701.0 195.3 701.9 196.1 C702.9 196.8 704.0 196.8 705.0 197.3 C706.0 197.7 707.0 198.3 708.0 198.7 C709.0 199.2 710.0 199.6 711.0 200.0 C712.0 200.5 713.0 200.9 714.0 201.3 C715.0 201.8 716.0 202.2 717.0 202.6 C718.0 203.0 719.0 203.6 720.1 203.9 C721.2 204.1 722.5 203.9 723.7 203.9 C724.9 204.0 726.1 204.2 727.4 204.3 C728.6 204.5 729.9 205.1 731.0 204.9 C732.1 204.7 732.9 203.7 733.9 203.3 C734.9 202.9 736.2 202.9 737.2 202.4 C738.2 201.9 738.9 200.8 739.9 200.2 C740.8 199.6 741.9 199.4 742.9 198.9 C744.0 198.3 745.1 197.7 746.1 197.1 C747.2 196.6 748.2 195.8 749.3 195.4 C750.4 194.9 751.8 194.9 752.9 194.4 C754.0 194.0 755.0 192.9 756.1 192.7 C757.2 192.4 758.4 192.8 759.7 193.0 C760.9 193.1 762.1 193.3 763.3 193.3 C764.5 193.3 765.7 193.2 767.0 193.0 C768.3 192.9 769.6 192.6 770.8 192.4 C772.1 192.1 773.4 191.9 774.6 191.7 C775.9 191.5 777.3 191.0 778.5 191.3 C779.7 191.6 780.8 192.6 781.9 193.4 C783.0 194.2 784.0 195.3 785.0 196.0 C786.0 196.8 787.1 197.2 788.1 197.9 C789.1 198.6 790.0 199.5 791.0 200.1 C792.0 200.6 793.0 200.8 794.0 201.0 C795.1 201.2 796.7 201.3 797.2 201.3" fill="none" stroke="#7a7a7a" stroke-width="1" stroke-linecap="round" stroke-linejoin="round"/>
<path d="M694.8 180.0 C694.2 180.0 692.6 180.1 691.5 179.9 C690.4 179.8 689.3 179.4 688.3 179.2 C687.2 179.1 686.1 178.9 685.0 178.8 C684.0 178.6 683.0 178.5 682.0 178.3 C681.0 178.2 680.0 178.1 679.0 178.0 C678.0 177.9 677.0 178.0 676.0 177.6 C674.9 177.2 673.7 176.4 672.8 175.6 C671.8 174.8 671.0 173.5 670.1 172.8 C669.3 172.1 668.4 171.7 667.5 171.3 C666.6 170.8 665.6 170.2 664.7 170.1 C663.7 170.0 662.8 170.6 661.8 170.9 C660.9 171.2 660.4 171.7 659.0 171.9 C657.6 172.1 655.0 172.6 653.5 172.3 C652.0 172.1 651.2 171.2 650.1 170.4 C649.0 169.7 648.0 168.7 647.0 168.1 C645.9 167.5 644.8 167.3 643.8 166.8 C642.9 166.3 642.1 165.7 641.0 165.0 C639.9 164.3 638.5 163.3 637.2 162.6 C635.9 161.9 634.3 161.2 633.0 160.9 C631.8 160.6 630.6 161.0 629.4 160.9 C628.3 160.8 627.4 159.7 626.0 160.1 C624.6 160.4 622.8 162.3 621.1 163.2 C619.4 164.0 617.6 165.1 616.1 165.1 C614.5 165.2 613.3 164.0 612.0 163.5 C610.6 163.0 609.2 162.4 607.9 162.1 C606.7 161.9 605.6 162.0 604.5 161.9 C603.3 161.7 602.1 161.3 601.0 161.4 C599.9 161.4 599.0 161.9 598.0 162.0 C597.0 162.2 595.9 162.0 594.9 162.2 C593.9 162.5 593.1 163.3 592.1 163.6 C591.1 163.9 590.1 163.7 589.0 164.0 C587.9 164.2 586.7 164.8 585.5 165.3 C584.4 165.7 583.2 166.2 582.1 166.6 C580.9 166.9 579.5 167.0 578.5 167.6 C577.6 168.2 577.1 169.2 576.5 170.1 C575.9 171.0 575.3 171.9 574.9 172.9 C574.5 174.0 574.3 175.3 574.0 176.4 C573.7 177.6 573.4 178.8 573.3 180.0 C573.3 181.1 573.5 182.3 573.8 183.4 C574.0 184.5 574.5 185.5 574.7 186.6 C574.9 187.7 575.0 188.9 575.1 190.0 C575.3 191.1 575.5 192.2 575.7 193.3 C575.9 194.5 576.1 195.6 576.4 196.7 C576.6 197.8 577.1 198.9 577.1 200.0 C577.1 201.1 576.6 202.2 576.4 203.3 C576.2 204.4 576.2 205.5 576.1 206.6 C576.0 207.7 575.6 208.8 575.8 210.0 C576.0 211.1 576.7 212.3 577.2 213.4 C577.6 214.5 578.0 215.6 578.5 216.7 C578.9 217.8 579.4 219.0 579.9 220.0 C580.4 221.1 581.1 222.2 581.6 223.3 C582.1 224.5 582.4 225.7 582.9 226.8 C583.4 227.9 584.2 228.9 584.6 230.1 C585.0 231.3 585.1 232.7 585.4 234.0 C585.6 235.3 585.8 236.7 586.1 238.0 C586.3 239.2 586.6 240.3 586.8 241.5 C586.9 242.6 586.9 243.9 587.2 245.0 C587.5 246.1 588.1 247.0 588.6 248.0 C589.0 249.0 589.8 249.7 590.0 251.0 C590.3 252.3 590.0 254.7 590.0 256.0 C590.1 257.3 590.2 258.0 590.4 259.1 C590.6 260.1 590.9 261.0 591.1 262.0 C591.4 263.0 591.5 263.8 591.8 265.0 C592.1 266.3 592.4 268.0 592.9 269.4 C593.4 270.8 594.3 272.1 595.0 273.4 C595.6 274.7 596.3 275.9 597.0 277.2 C597.6 278.5 598.3 279.9 598.9 281.1 C599.5 282.2 600.0 283.1 600.6 284.1 C601.1 285.2 602.3 286.1 602.2 287.3 C602.1 288.4 600.2 290.4 599.8 291.1" fill="none" stroke="#fff" stroke-width="2.6" stroke-opacity="0.75" stroke-linecap="round" stroke-linejoin="round"/>
<path d="M694.8 180.0 C694.2 180.0 692.6 180.1 691.5 179.9 C690.4 179.8 689.3 179.4 688.3 179.2 C687.2 179.1 686.1 178.9 685.0 178.8 C684.0 178.6 683.0 178.5 682.0 178.3 C681.0 178.2 680.0 178.1 679.0 178.0 C678.0 177.9 677.0 178.0 676.0 177.6 C674.9 177.2 673.7 176.4 672.8 175.6 C671.8 174.8 671.0 173.5 670.1 172.8 C669.3 172.1 668.4 171.7 667.5 171.3 C666.6 170.8 665.6 170.2 664.7 170.1 C663.7 170.0 662.8 170.6 661.8 170.9 C660.9 171.2 660.4 171.7 659.0 171.9 C657.6 172.1 655.0 172.6 653.5 172.3 C652.0 172.1 651.2 171.2 650.1 170.4 C649.0 169.7 648.0 168.7 647.0 168.1 C645.9 167.5 644.8 167.3 643.8 166.8 C642.9 166.3 642.1 165.7 641.0 165.0 C639.9 164.3 638.5 163.3 637.2 162.6 C635.9 161.9 634.3 161.2 633.0 160.9 C631.8 160.6 630.6 161.0 629.4 160.9 C628.3 160.8 627.4 159.7 626.0 160.1 C624.6 160.4 622.8 162.3 621.1 163.2 C619.4 164.0 617.6 165.1 616.1 165.1 C614.5 165.2 613.3 164.0 612.0 163.5 C610.6 163.0 609.2 162.4 607.9 162.1 C606.7 161.9 605.6 162.0 604.5 161.9 C603.3 161.7 602.1 161.3 601.0 161.4 C599.9 161.4 599.0 161.9 598.0 162.0 C597.0 162.2 595.9 162.0 594.9 162.2 C593.9 162.5 593.1 163.3 592.1 163.6 C591.1 163.9 590.1 163.7 589.0 164.0 C587.9 164.2 586.7 164.8 585.5 165.3 C584.4 165.7 583.2 166.2 582.1 166.6 C580.9 166.9 579.5 167.0 578.5 167.6 C577.6 168.2 577.1 169.2 576.5 170.1 C575.9 171.0 575.3 171.9 574.9 172.9 C574.5 174.0 574.3 175.3 574.0 176.4 C573.7 177.6 573.4 178.8 573.3 180.0 C573.3 181.1 573.5 182.3 573.8 183.4 C574.0 184.5 574.5 185.5 574.7 186.6 C574.9 187.7 575.0 188.9 575.1 190.0 C575.3 191.1 575.5 192.2 575.7 193.3 C575.9 194.5 576.1 195.6 576.4 196.7 C576.6 197.8 577.1 198.9 577.1 200.0 C577.1 201.1 576.6 202.2 576.4 203.3 C576.2 204.4 576.2 205.5 576.1 206.6 C576.0 207.7 575.6 208.8 575.8 210.0 C576.0 211.1 576.7 212.3 577.2 213.4 C577.6 214.5 578.0 215.6 578.5 216.7 C578.9 217.8 579.4 219.0 579.9 220.0 C580.4 221.1 581.1 222.2 581.6 223.3 C582.1 224.5 582.4 225.7 582.9 226.8 C583.4 227.9 584.2 228.9 584.6 230.1 C585.0 231.3 585.1 232.7 585.4 234.0 C585.6 235.3 585.8 236.7 586.1 238.0 C586.3 239.2 586.6 240.3 586.8 241.5 C586.9 242.6 586.9 243.9 587.2 245.0 C587.5 246.1 588.1 247.0 588.6 248.0 C589.0 249.0 589.8 249.7 590.0 251.0 C590.3 252.3 590.0 254.7 590.0 256.0 C590.1 257.3 590.2 258.0 590.4 259.1 C590.6 260.1 590.9 261.0 591.1 262.0 C591.4 263.0 591.5 263.8 591.8 265.0 C592.1 266.3 592.4 268.0 592.9 269.4 C593.4 270.8 594.3 272.1 595.0 273.4 C595.6 274.7 596.3 275.9 597.0 277.2 C597.6 278.5 598.3 279.9 598.9 281.1 C599.5 282.2 600.0 283.1 600.6 284.1 C601.1 285.2 602.3 286.1 602.2 287.3 C602.1 288.4 600.2 290.4 599.8 291.1" fill="none" stroke="#7a7a7a" stroke-width="1" stroke-linecap="round" stroke-linejoin="round"/>
<path d="M619.8 302.2 C619.5 302.9 618.9 305.0 618.2 306.3 C617.6 307.6 616.4 308.6 615.9 309.9 C615.3 311.3 615.1 312.8 615.0 314.2 C614.8 315.6 614.8 317.8 614.8 318.5" fill="none" stroke="#fff" stroke-width="2.6" stroke-opacity="0.75" stroke-linecap="round" stroke-linejoin="round"/>
<path d="M619.8 302.2 C619.5 302.9 618.9 305.0 618.2 306.3 C617.6 307.6 616.4 308.6 615.9 309.9 C615.3 311.3 615.1 312.8 615.0 314.2 C614.8 315.6 614.8 317.8 614.8 318.5" fill="none" stroke="#7a7a7a" stroke-width="1" stroke-linecap="round" stroke-linejoin="round"/>
<path d="M619.8 334.8 C620.0 335.3 620.7 337.1 621.1 338.3 C621.5 339.5 621.5 340.8 622.0 342.0 C622.5 343.2 623.3 344.2 624.0 345.3 C624.6 346.3 625.5 347.4 626.1 348.4 C626.8 349.4 627.4 350.3 628.0 351.3 C628.6 352.2 629.1 353.3 629.8 354.1 C630.6 355.0 631.5 355.6 632.3 356.3 C633.1 357.0 633.5 357.9 634.7 358.5 C636.0 359.1 638.3 359.7 640.0 360.1 C641.6 360.5 643.6 360.4 644.8 361.0 C645.9 361.6 646.2 362.8 646.7 363.9 C647.2 364.9 647.4 366.2 647.9 367.2 C648.5 368.2 649.5 368.9 650.1 369.9 C650.7 370.9 651.1 372.1 651.7 373.1 C652.2 374.1 652.9 375.0 653.7 375.9 C654.4 376.8 655.2 377.6 656.0 378.5 C656.8 379.4 657.6 380.4 658.5 381.3 C659.3 382.2 660.3 383.1 661.1 383.9 C662.0 384.7 662.9 385.2 663.7 386.0 C664.5 386.8 665.0 387.9 665.9 388.6 C666.9 389.3 668.2 389.6 669.4 390.0 C670.6 390.4 671.7 390.7 673.0 391.1 C674.3 391.4 675.8 391.4 677.1 391.9 C678.5 392.3 679.7 392.7 681.0 393.6 C682.3 394.5 683.6 396.1 684.9 397.2 C686.1 398.2 687.2 399.7 688.4 399.9 C689.6 400.0 690.7 398.7 691.8 398.0 C692.9 397.4 693.9 396.6 695.0 396.0 C696.1 395.3 697.4 394.7 698.6 394.1 C699.8 393.4 701.0 392.0 702.2 392.1 C703.4 392.2 704.8 393.7 706.0 394.7 C707.1 395.7 707.8 397.2 708.9 398.2 C710.0 399.1 711.4 399.8 712.6 400.7 C713.8 401.5 714.9 402.7 716.0 403.5 C717.2 404.2 718.3 404.4 719.3 405.0 C720.4 405.6 721.4 406.5 722.4 407.0 C723.5 407.5 724.8 407.7 725.9 408.2 C727.1 408.6 728.1 409.1 729.3 409.6 C730.4 410.1 731.4 410.7 732.5 411.1 C733.7 411.6 734.9 411.9 736.0 412.3 C737.1 412.6 738.0 412.8 739.0 413.1 C740.0 413.4 740.9 413.7 741.9 413.9 C742.9 414.2 743.9 414.3 745.0 414.5 C746.0 414.6 747.0 414.6 748.0 414.8 C749.1 415.0 750.2 415.5 751.3 415.8 C752.3 416.2 753.4 416.5 754.5 416.8 C755.5 417.2 756.6 417.5 757.7 417.8 C758.8 418.1 759.9 418.3 761.0 418.7 C762.0 419.1 762.8 419.8 763.9 420.3 C764.9 420.7 766.0 421.0 767.0 421.4 C768.1 421.9 769.1 422.4 770.0 423.0 C770.9 423.5 771.8 424.2 772.7 424.7 C773.6 425.2 774.6 425.7 775.5 426.1 C776.5 426.5 777.4 427.0 778.5 427.2 C779.6 427.4 781.0 427.1 782.2 427.1 C783.5 427.2 785.4 427.3 786.0 427.3" fill="none" stroke="#fff" stroke-width="2.6" stroke-opacity="0.75" stroke-linecap="round" stroke-linejoin="round"/>
<path d="M619.8 334.8 C620.0 335.3 620.7 337.1 621.1 338.3 C621.5 339.5 621.5 340.8 622.0 342.0 C622.5 343.2 623.3 344.2 624.0 345.3 C624.6 346.3 625.5 347.4 626.1 348.4 C626.8 349.4 627.4 350.3 628.0 351.3 C628.6 352.2 629.1 353.3 629.8 354.1 C630.6 355.0 631.5 355.6 632.3 356.3 C633.1 357.0 633.5 357.9 634.7 358.5 C636.0 359.1 638.3 359.7 640.0 360.1 C641.6 360.5 643.6 360.4 644.8 361.0 C645.9 361.6 646.2 362.8 646.7 363.9 C647.2 364.9 647.4 366.2 647.9 367.2 C648.5 368.2 649.5 368.9 650.1 369.9 C650.7 370.9 651.1 372.1 651.7 373.1 C652.2 374.1 652.9 375.0 653.7 375.9 C654.4 376.8 655.2 377.6 656.0 378.5 C656.8 379.4 657.6 380.4 658.5 381.3 C659.3 382.2 660.3 383.1 661.1 383.9 C662.0 384.7 662.9 385.2 663.7 386.0 C664.5 386.8 665.0 387.9 665.9 388.6 C666.9 389.3 668.2 389.6 669.4 390.0 C670.6 390.4 671.7 390.7 673.0 391.1 C674.3 391.4 675.8 391.4 677.1 391.9 C678.5 392.3 679.7 392.7 681.0 393.6 C682.3 394.5 683.6 396.1 684.9 397.2 C686.1 398.2 687.2 399.7 688.4 399.9 C689.6 400.0 690.7 398.7 691.8 398.0 C692.9 397.4 693.9 396.6 695.0 396.0 C696.1 395.3 697.4 394.7 698.6 394.1 C699.8 393.4 701.0 392.0 702.2 392.1 C703.4 392.2 704.8 393.7 706.0 394.7 C707.1 395.7 707.8 397.2 708.9 398.2 C710.0 399.1 711.4 399.8 712.6 400.7 C713.8 401.5 714.9 402.7 716.0 403.5 C717.2 404.2 718.3 404.4 719.3 405.0 C720.4 405.6 721.4 406.5 722.4 407.0 C723.5 407.5 724.8 407.7 725.9 408.2 C727.1 408.6 728.1 409.1 729.3 409.6 C730.4 410.1 731.4 410.7 732.5 411.1 C733.7 411.6 734.9 411.9 736.0 412.3 C737.1 412.6 738.0 412.8 739.0 413.1 C740.0 413.4 740.9 413.7 741.9 413.9 C742.9 414.2 743.9 414.3 745.0 414.5 C746.0 414.6 747.0 414.6 748.0 414.8 C749.1 415.0 750.2 415.5 751.3 415.8 C752.3 416.2 753.4 416.5 754.5 416.8 C755.5 417.2 756.6 417.5 757.7 417.8 C758.8 418.1 759.9 418.3 761.0 418.7 C762.0 419.1 762.8 419.8 763.9 420.3 C764.9 420.7 766.0 421.0 767.0 421.4 C768.1 421.9 769.1 422.4 770.0 423.0 C770.9 423.5 771.8 424.2 772.7 424.7 C773.6 425.2 774.6 425.7 775.5 426.1 C776.5 426.5 777.4 427.0 778.5 427.2 C779.6 427.4 781.0 427.1 782.2 427.1 C783.5 427.2 785.4 427.3 786.0 427.3" fill="none" stroke="#7a7a7a" stroke-width="1" stroke-linecap="round" stroke-linejoin="round"/>
<path d="M627.2 303.5 C627.9 303.6 629.8 304.0 631.1 304.0 C632.4 304.0 633.7 303.4 635.0 303.5 C636.3 303.5 637.8 304.3 639.2 304.5 C640.6 304.7 642.3 304.4 643.5 304.6 C644.8 304.9 645.7 305.6 646.8 306.1 C647.8 306.6 649.0 306.9 650.0 307.4 C651.1 307.9 652.0 308.7 653.0 309.3 C654.0 309.9 655.1 310.0 656.1 310.8 C657.1 311.7 658.2 313.2 659.0 314.5 C659.9 315.7 660.7 317.8 661.1 318.5" fill="none" stroke="#fff" stroke-width="2.6" stroke-opacity="0.75" stroke-linecap="round" stroke-linejoin="round"/>
<path d="M627.2 303.5 C627.9 303.6 629.8 304.0 631.1 304.0 C632.4 304.0 633.7 303.4 635.0 303.5 C636.3 303.5 637.8 304.3 639.2 304.5 C640.6 304.7 642.3 304.4 643.5 304.6 C644.8 304.9 645.7 305.6 646.8 306.1 C647.8 306.6 649.0 306.9 650.0 307.4 C651.1 307.9 652.0 308.7 653.0 309.3 C654.0 309.9 655.1 310.0 656.1 310.8 C657.1 311.7 658.2 313.2 659.0 314.5 C659.9 315.7 660.7 317.8 661.1 318.5" fill="none" stroke="#7a7a7a" stroke-width="1" stroke-linecap="round" stroke-linejoin="round"/>
<path d="M667.2 334.8 C667.3 335.3 667.1 336.9 667.3 337.9 C667.4 339.0 667.8 339.9 668.1 341.0 C668.4 342.1 668.6 343.3 669.1 344.3 C669.5 345.4 670.3 346.5 671.0 347.2 C671.8 348.0 672.7 348.4 673.6 349.0 C674.4 349.7 675.0 350.7 676.0 351.0 C676.9 351.4 678.1 351.1 679.2 351.3 C680.2 351.4 681.4 352.3 682.3 352.1 C683.2 351.9 683.7 350.8 684.4 350.1 C685.2 349.4 685.8 348.5 686.5 347.9 C687.3 347.2 688.3 346.7 689.1 346.1 C689.8 345.4 690.5 344.6 691.3 343.8 C692.0 343.1 692.8 342.4 693.6 341.7 C694.4 341.0 695.1 340.3 695.9 339.7 C696.8 339.0 697.6 338.4 698.5 337.9 C699.4 337.4 700.5 337.2 701.5 336.8 C702.4 336.3 703.1 335.7 704.1 335.2 C705.0 334.6 706.0 333.9 707.1 333.5 C708.2 333.1 709.4 333.1 710.5 332.6 C711.5 332.2 712.4 331.3 713.5 330.9 C714.5 330.5 715.8 330.6 716.8 330.3 C717.9 329.9 718.8 329.1 720.0 328.9 C721.1 328.6 722.4 328.9 723.6 328.8 C724.8 328.8 726.6 328.5 727.2 328.5" fill="none" stroke="#fff" stroke-width="2.6" stroke-opacity="0.75" stroke-linecap="round" stroke-linejoin="round"/>
<path d="M667.2 334.8 C667.3 335.3 667.1 336.9 667.3 337.9 C667.4 339.0 667.8 339.9 668.1 341.0 C668.4 342.1 668.6 343.3 669.1 344.3 C669.5 345.4 670.3 346.5 671.0 347.2 C671.8 348.0 672.7 348.4 673.6 349.0 C674.4 349.7 675.0 350.7 676.0 351.0 C676.9 351.4 678.1 351.1 679.2 351.3 C680.2 351.4 681.4 352.3 682.3 352.1 C683.2 351.9 683.7 350.8 684.4 350.1 C685.2 349.4 685.8 348.5 686.5 347.9 C687.3 347.2 688.3 346.7 689.1 346.1 C689.8 345.4 690.5 344.6 691.3 343.8 C692.0 343.1 692.8 342.4 693.6 341.7 C694.4 341.0 695.1 340.3 695.9 339.7 C696.8 339.0 697.6 338.4 698.5 337.9 C699.4 337.4 700.5 337.2 701.5 336.8 C702.4 336.3 703.1 335.7 704.1 335.2 C705.0 334.6 706.0 333.9 707.1 333.5 C708.2 333.1 709.4 333.1 710.5 332.6 C711.5 332.2 712.4 331.3 713.5 330.9 C714.5 330.5 715.8 330.6 716.8 330.3 C717.9 329.9 718.8 329.1 720.0 328.9 C721.1 328.6 722.4 328.9 723.6 328.8 C724.8 328.8 726.6 328.5 727.2 328.5" fill="none" stroke="#7a7a7a" stroke-width="1" stroke-linecap="round" stroke-linejoin="round"/>
<path d="M771.0 339.8 C771.6 339.8 773.2 340.0 774.3 340.1 C775.4 340.3 776.5 340.6 777.6 340.8 C778.8 340.9 779.9 340.8 781.0 341.1 C782.1 341.3 783.2 341.7 784.3 342.0 C785.4 342.4 786.4 342.8 787.6 343.1 C788.7 343.4 789.9 343.3 791.0 343.6 C792.0 343.9 792.9 344.4 793.7 344.9 C794.6 345.5 795.4 346.1 796.1 346.9 C796.8 347.7 797.3 348.7 797.9 349.6 C798.5 350.5 799.5 351.0 799.8 352.2 C800.1 353.5 799.6 355.5 799.8 357.0 C800.0 358.5 800.2 360.0 800.9 361.0 C801.6 362.0 803.0 362.3 804.0 363.0 C805.0 363.6 806.0 364.4 807.0 364.9 C808.1 365.5 809.3 365.9 810.4 366.5 C811.5 367.1 813.0 368.2 813.5 368.5" fill="none" stroke="#fff" stroke-width="2.6" stroke-opacity="0.75" stroke-linecap="round" stroke-linejoin="round"/>
<path d="M771.0 339.8 C771.6 339.8 773.2 340.0 774.3 340.1 C775.4 340.3 776.5 340.6 777.6 340.8 C778.8 340.9 779.9 340.8 781.0 341.1 C782.1 341.3 783.2 341.7 784.3 342.0 C785.4 342.4 786.4 342.8 787.6 343.1 C788.7 343.4 789.9 343.3 791.0 343.6 C792.0 343.9 792.9 344.4 793.7 344.9 C794.6 345.5 795.4 346.1 796.1 346.9 C796.8 347.7 797.3 348.7 797.9 349.6 C798.5 350.5 799.5 351.0 799.8 352.2 C800.1 353.5 799.6 355.5 799.8 357.0 C800.0 358.5 800.2 360.0 800.9 361.0 C801.6 362.0 803.0 362.3 804.0 363.0 C805.0 363.6 806.0 364.4 807.0 364.9 C808.1 365.5 809.3 365.9 810.4 366.5 C811.5 367.1 813.0 368.2 813.5 368.5" fill="none" stroke="#7a7a7a" stroke-width="1" stroke-linecap="round" stroke-linejoin="round"/>
<path d="M588.1 386.0 C588.7 386.6 590.3 388.9 591.5 389.7 C592.6 390.4 593.9 390.3 595.1 390.4 C596.4 390.5 597.7 390.4 599.0 390.3 C600.3 390.2 601.5 389.8 602.7 389.8 C604.0 389.9 604.9 390.1 606.4 390.5 C607.9 391.0 610.1 391.5 611.5 392.4 C613.0 393.2 614.7 394.5 615.2 395.6 C615.7 396.7 614.8 397.9 614.6 399.0 C614.5 400.0 614.8 400.7 614.1 401.8 C613.4 402.9 611.5 404.3 610.5 405.5 C609.4 406.6 608.2 408.2 607.7 408.8" fill="none" stroke="#fff" stroke-width="2.6" stroke-opacity="0.75" stroke-linecap="round" stroke-linejoin="round"/>
<path d="M588.1 386.0 C588.7 386.6 590.3 388.9 591.5 389.7 C592.6 390.4 593.9 390.3 595.1 390.4 C596.4 390.5 597.7 390.4 599.0 390.3 C600.3 390.2 601.5 389.8 602.7 389.8 C604.0 389.9 604.9 390.1 606.4 390.5 C607.9 391.0 610.1 391.5 611.5 392.4 C613.0 393.2 614.7 394.5 615.2 395.6 C615.7 396.7 614.8 397.9 614.6 399.0 C614.5 400.0 614.8 400.7 614.1 401.8 C613.4 402.9 611.5 404.3 610.5 405.5 C609.4 406.6 608.2 408.2 607.7 408.8" fill="none" stroke="#7a7a7a" stroke-width="1" stroke-linecap="round" stroke-linejoin="round"/>
<path d="M605.2 411.3 L610 413.6 L615 412.4 L620 415 L624 412.8 L628.2 414.3 L626 417.6 L621 418.6 L616 416.6 L611 416.2 L606.5 414Z" fill="#111" stroke="#111" stroke-width="0.8" stroke-linejoin="round"/>
<circle cx="618.4" cy="422" r="2.7" fill="none" stroke="#111" stroke-width="1.6"/>
<path d="M613.5 416.5 L616.3 420.2 M623.5 418 L620.6 420.4" fill="none" stroke="#111" stroke-width="1.6"/>
<path d="M619.1 425.9 C618.9 426.4 618.4 427.8 618.0 428.7 C617.6 429.7 617.3 430.6 616.8 431.5 C616.3 432.4 615.4 433.1 614.9 434.0 C614.5 434.9 614.6 436.0 614.2 436.9 C613.8 437.9 613.1 438.7 612.7 439.6 C612.3 440.6 612.4 441.6 611.9 442.6 C611.4 443.5 610.4 444.5 609.9 445.5 C609.4 446.6 609.1 447.9 608.9 449.0 C608.7 450.1 608.8 451.0 608.7 452.0 C608.6 453.0 608.0 454.1 608.2 455.0 C608.4 456.0 609.1 457.0 609.7 457.9 C610.3 458.8 610.9 459.8 611.7 460.6 C612.4 461.4 613.3 462.2 614.1 463.0 C614.9 463.7 615.8 464.2 616.5 465.0 C617.1 465.9 617.3 467.2 617.9 468.0 C618.6 468.9 619.4 469.0 620.4 470.1 C621.3 471.3 622.8 473.7 623.5 475.0 C624.3 476.3 624.6 476.9 624.9 478.0 C625.2 479.0 625.3 480.7 625.4 481.3" fill="none" stroke="#fff" stroke-width="2.6" stroke-opacity="0.75" stroke-linecap="round" stroke-linejoin="round"/>
<path d="M619.1 425.9 C618.9 426.4 618.4 427.8 618.0 428.7 C617.6 429.7 617.3 430.6 616.8 431.5 C616.3 432.4 615.4 433.1 614.9 434.0 C614.5 434.9 614.6 436.0 614.2 436.9 C613.8 437.9 613.1 438.7 612.7 439.6 C612.3 440.6 612.4 441.6 611.9 442.6 C611.4 443.5 610.4 444.5 609.9 445.5 C609.4 446.6 609.1 447.9 608.9 449.0 C608.7 450.1 608.8 451.0 608.7 452.0 C608.6 453.0 608.0 454.1 608.2 455.0 C608.4 456.0 609.1 457.0 609.7 457.9 C610.3 458.8 610.9 459.8 611.7 460.6 C612.4 461.4 613.3 462.2 614.1 463.0 C614.9 463.7 615.8 464.2 616.5 465.0 C617.1 465.9 617.3 467.2 617.9 468.0 C618.6 468.9 619.4 469.0 620.4 470.1 C621.3 471.3 622.8 473.7 623.5 475.0 C624.3 476.3 624.6 476.9 624.9 478.0 C625.2 479.0 625.3 480.7 625.4 481.3" fill="none" stroke="#7a7a7a" stroke-width="1" stroke-linecap="round" stroke-linejoin="round"/>
<path d="M649.2 492.5 C650.0 492.7 652.1 493.3 653.6 493.4 C655.0 493.6 656.7 493.3 658.0 493.4 C659.3 493.4 660.3 493.5 661.4 493.6 C662.5 493.7 663.6 493.8 664.7 494.1 C665.8 494.3 666.8 494.6 668.0 495.1 C669.2 495.6 670.5 496.4 671.9 496.9 C673.2 497.4 674.7 497.7 675.9 498.2 C677.2 498.7 678.2 499.3 679.4 499.8 C680.6 500.3 681.8 500.9 683.0 501.3 C684.1 501.7 685.3 502.0 686.5 502.3 C687.6 502.6 688.7 502.8 690.0 503.0 C691.3 503.2 692.7 503.3 694.0 503.4 C695.3 503.5 697.3 503.6 698.0 503.6" fill="none" stroke="#fff" stroke-width="2.6" stroke-opacity="0.75" stroke-linecap="round" stroke-linejoin="round"/>
<path d="M649.2 492.5 C650.0 492.7 652.1 493.3 653.6 493.4 C655.0 493.6 656.7 493.3 658.0 493.4 C659.3 493.4 660.3 493.5 661.4 493.6 C662.5 493.7 663.6 493.8 664.7 494.1 C665.8 494.3 666.8 494.6 668.0 495.1 C669.2 495.6 670.5 496.4 671.9 496.9 C673.2 497.4 674.7 497.7 675.9 498.2 C677.2 498.7 678.2 499.3 679.4 499.8 C680.6 500.3 681.8 500.9 683.0 501.3 C684.1 501.7 685.3 502.0 686.5 502.3 C687.6 502.6 688.7 502.8 690.0 503.0 C691.3 503.2 692.7 503.3 694.0 503.4 C695.3 503.5 697.3 503.6 698.0 503.6" fill="none" stroke="#7a7a7a" stroke-width="1" stroke-linecap="round" stroke-linejoin="round"/>
<path d="M426.2 373.5 C426.7 373.8 428.0 374.8 429.0 375.3 C430.0 375.8 431.0 376.1 432.0 376.6 C433.0 377.1 433.9 377.6 435.0 378.1 C436.0 378.5 437.5 378.7 438.6 379.4 C439.7 380.0 440.5 381.1 441.6 381.8 C442.6 382.5 443.5 383.3 444.9 383.6 C446.4 383.9 448.3 383.7 450.0 383.5 C451.7 383.3 453.9 382.9 455.0 382.2 C456.1 381.6 455.9 380.3 456.4 379.4 C457.0 378.4 457.6 377.6 458.2 376.7 C458.8 375.8 459.4 375.1 460.0 374.0 C460.7 372.9 461.6 371.5 462.2 370.2 C462.9 368.8 463.2 367.1 463.8 366.0 C464.4 364.9 465.1 364.3 465.8 363.5 C466.5 362.6 466.8 362.0 467.9 360.9 C469.1 359.9 471.3 357.8 472.6 357.3 C473.9 356.8 474.7 357.7 475.8 357.9 C476.9 358.2 478.0 358.4 479.1 358.8 C480.1 359.3 481.0 360.1 482.0 360.7 C483.0 361.3 483.9 361.8 485.0 362.3 C486.1 362.7 487.2 363.2 488.4 363.5 C489.6 363.8 490.7 363.8 492.0 364.0 C493.3 364.2 494.6 364.5 496.0 364.6 C497.3 364.7 499.3 364.7 500.0 364.7" fill="none" stroke="#fff" stroke-width="2.6" stroke-opacity="0.75" stroke-linecap="round" stroke-linejoin="round"/>
<path d="M426.2 373.5 C426.7 373.8 428.0 374.8 429.0 375.3 C430.0 375.8 431.0 376.1 432.0 376.6 C433.0 377.1 433.9 377.6 435.0 378.1 C436.0 378.5 437.5 378.7 438.6 379.4 C439.7 380.0 440.5 381.1 441.6 381.8 C442.6 382.5 443.5 383.3 444.9 383.6 C446.4 383.9 448.3 383.7 450.0 383.5 C451.7 383.3 453.9 382.9 455.0 382.2 C456.1 381.6 455.9 380.3 456.4 379.4 C457.0 378.4 457.6 377.6 458.2 376.7 C458.8 375.8 459.4 375.1 460.0 374.0 C460.7 372.9 461.6 371.5 462.2 370.2 C462.9 368.8 463.2 367.1 463.8 366.0 C464.4 364.9 465.1 364.3 465.8 363.5 C466.5 362.6 466.8 362.0 467.9 360.9 C469.1 359.9 471.3 357.8 472.6 357.3 C473.9 356.8 474.7 357.7 475.8 357.9 C476.9 358.2 478.0 358.4 479.1 358.8 C480.1 359.3 481.0 360.1 482.0 360.7 C483.0 361.3 483.9 361.8 485.0 362.3 C486.1 362.7 487.2 363.2 488.4 363.5 C489.6 363.8 490.7 363.8 492.0 364.0 C493.3 364.2 494.6 364.5 496.0 364.6 C497.3 364.7 499.3 364.7 500.0 364.7" fill="none" stroke="#7a7a7a" stroke-width="1" stroke-linecap="round" stroke-linejoin="round"/>
<path d="M501.5 363.3 L504.5 366 L507.8 370.2 L512 371.7 L516.7 372.8 M507.3 368.8 L510 368 L513.5 368.3" fill="none" stroke="#111" stroke-width="2.5" stroke-linecap="round" stroke-linejoin="round"/>
<path d="M551.0 391.0 C551.4 391.5 552.4 393.8 553.6 394.2 C554.8 394.7 556.6 394.2 558.0 393.7 C559.4 393.1 561.3 391.4 562.0 391.0" fill="none" stroke="#fff" stroke-width="2.6" stroke-opacity="0.75" stroke-linecap="round" stroke-linejoin="round"/>
<path d="M551.0 391.0 C551.4 391.5 552.4 393.8 553.6 394.2 C554.8 394.7 556.6 394.2 558.0 393.7 C559.4 393.1 561.3 391.4 562.0 391.0" fill="none" stroke="#7a7a7a" stroke-width="1" stroke-linecap="round" stroke-linejoin="round"/>
<path d="M517.3 372.6 C517.8 372.3 519.1 371.5 520.0 371.1 C521.0 370.7 521.8 369.9 523.0 370.1 C524.1 370.2 525.8 371.2 527.1 371.8 C528.3 372.5 530.0 373.6 530.6 373.9" fill="none" stroke="#fff" stroke-width="2.6" stroke-opacity="0.75" stroke-linecap="round" stroke-linejoin="round"/>
<path d="M517.3 372.6 C517.8 372.3 519.1 371.5 520.0 371.1 C521.0 370.7 521.8 369.9 523.0 370.1 C524.1 370.2 525.8 371.2 527.1 371.8 C528.3 372.5 530.0 373.6 530.6 373.9" fill="none" stroke="#7a7a7a" stroke-width="1" stroke-linecap="round" stroke-linejoin="round"/>
<path d="M483.0 560.0 C483.5 560.3 484.8 561.3 485.8 561.6 C486.9 561.9 488.1 561.7 489.1 562.0 C490.1 562.3 490.9 563.3 492.0 563.6 C493.0 564.0 494.4 563.8 495.7 564.0 C496.9 564.3 498.0 564.9 499.3 565.0 C500.5 565.2 501.9 565.3 503.0 565.0 C504.1 564.8 505.0 564.0 506.0 563.4 C507.0 562.9 507.9 562.3 508.9 561.8 C510.0 561.4 511.1 561.2 512.2 560.9 C513.3 560.7 514.6 560.1 515.6 560.2 C516.5 560.3 517.2 561.3 518.2 561.5 C519.1 561.8 520.3 561.5 521.3 561.7 C522.2 562.0 523.0 562.7 524.0 563.1 C524.9 563.5 526.1 563.7 527.1 564.2 C528.1 564.7 529.0 565.5 530.0 566.1 C530.9 566.6 532.1 567.0 533.0 567.5 C534.0 568.0 534.8 568.4 535.7 569.0 C536.5 569.6 537.2 570.3 538.0 571.0 C538.8 571.7 539.5 572.5 540.3 573.2 C541.2 573.9 542.0 574.4 543.0 575.1 C543.9 575.7 545.2 576.3 546.0 576.9 C546.9 577.6 547.4 577.7 548.1 578.9 C548.8 580.0 549.8 582.2 550.2 583.9 C550.6 585.6 550.8 587.5 550.3 589.0 C549.8 590.5 548.2 591.7 547.0 593.0 C545.8 594.2 543.7 595.9 543.0 596.5" fill="none" stroke="#fff" stroke-width="2.6" stroke-opacity="0.75" stroke-linecap="round" stroke-linejoin="round"/>
<path d="M483.0 560.0 C483.5 560.3 484.8 561.3 485.8 561.6 C486.9 561.9 488.1 561.7 489.1 562.0 C490.1 562.3 490.9 563.3 492.0 563.6 C493.0 564.0 494.4 563.8 495.7 564.0 C496.9 564.3 498.0 564.9 499.3 565.0 C500.5 565.2 501.9 565.3 503.0 565.0 C504.1 564.8 505.0 564.0 506.0 563.4 C507.0 562.9 507.9 562.3 508.9 561.8 C510.0 561.4 511.1 561.2 512.2 560.9 C513.3 560.7 514.6 560.1 515.6 560.2 C516.5 560.3 517.2 561.3 518.2 561.5 C519.1 561.8 520.3 561.5 521.3 561.7 C522.2 562.0 523.0 562.7 524.0 563.1 C524.9 563.5 526.1 563.7 527.1 564.2 C528.1 564.7 529.0 565.5 530.0 566.1 C530.9 566.6 532.1 567.0 533.0 567.5 C534.0 568.0 534.8 568.4 535.7 569.0 C536.5 569.6 537.2 570.3 538.0 571.0 C538.8 571.7 539.5 572.5 540.3 573.2 C541.2 573.9 542.0 574.4 543.0 575.1 C543.9 575.7 545.2 576.3 546.0 576.9 C546.9 577.6 547.4 577.7 548.1 578.9 C548.8 580.0 549.8 582.2 550.2 583.9 C550.6 585.6 550.8 587.5 550.3 589.0 C549.8 590.5 548.2 591.7 547.0 593.0 C545.8 594.2 543.7 595.9 543.0 596.5" fill="none" stroke="#7a7a7a" stroke-width="1" stroke-linecap="round" stroke-linejoin="round"/>
<path d="M550.5 589.0 C550.5 589.7 550.6 591.7 550.7 593.0 C550.8 594.3 551.0 595.7 551.1 597.0 C551.3 598.3 551.2 599.5 551.5 600.6 C551.8 601.8 552.4 603.0 552.9 604.0 C553.5 605.0 554.3 605.7 554.9 606.6 C555.6 607.4 556.1 608.3 556.8 609.1 C557.5 609.9 558.5 610.4 559.1 611.2 C559.7 612.1 560.2 613.6 560.4 614.1" fill="none" stroke="#fff" stroke-width="2.6" stroke-opacity="0.75" stroke-linecap="round" stroke-linejoin="round"/>
<path d="M550.5 589.0 C550.5 589.7 550.6 591.7 550.7 593.0 C550.8 594.3 551.0 595.7 551.1 597.0 C551.3 598.3 551.2 599.5 551.5 600.6 C551.8 601.8 552.4 603.0 552.9 604.0 C553.5 605.0 554.3 605.7 554.9 606.6 C555.6 607.4 556.1 608.3 556.8 609.1 C557.5 609.9 558.5 610.4 559.1 611.2 C559.7 612.1 560.2 613.6 560.4 614.1" fill="none" stroke="#7a7a7a" stroke-width="1" stroke-linecap="round" stroke-linejoin="round"/>
<path d="M560.5 614.0 L563.0 611.5 L566.0 612.0 L567.0 615.0 L564.0 618.0 L561.0 618.5Z" fill="#111" stroke="#111" stroke-width="1.2" stroke-linejoin="round"/>
<path d="M567.0 615.0 C567.5 615.1 569.1 615.2 570.1 615.6 C571.1 615.9 572.1 616.4 573.0 617.0 C573.9 617.6 574.8 618.4 575.6 619.2 C576.4 619.9 577.5 620.6 577.9 621.6 C578.3 622.6 577.9 624.0 577.9 625.2 C577.9 626.5 578.4 627.8 578.0 629.0 C577.6 630.2 576.3 631.3 575.7 632.5 C575.1 633.8 574.6 635.9 574.3 636.5" fill="none" stroke="#fff" stroke-width="2.6" stroke-opacity="0.75" stroke-linecap="round" stroke-linejoin="round"/>
<path d="M567.0 615.0 C567.5 615.1 569.1 615.2 570.1 615.6 C571.1 615.9 572.1 616.4 573.0 617.0 C573.9 617.6 574.8 618.4 575.6 619.2 C576.4 619.9 577.5 620.6 577.9 621.6 C578.3 622.6 577.9 624.0 577.9 625.2 C577.9 626.5 578.4 627.8 578.0 629.0 C577.6 630.2 576.3 631.3 575.7 632.5 C575.1 633.8 574.6 635.9 574.3 636.5" fill="none" stroke="#7a7a7a" stroke-width="1" stroke-linecap="round" stroke-linejoin="round"/>
<path d="M585.5 664.0 C586.1 664.1 588.1 664.3 589.3 664.5 C590.6 664.7 591.9 665.0 593.2 665.1 C594.4 665.3 595.8 665.1 597.0 665.4 C598.2 665.7 599.4 666.4 600.6 666.7 C601.8 667.0 603.0 667.1 604.3 667.2 C605.5 667.4 606.9 667.6 608.0 667.9 C609.1 668.1 610.0 668.5 611.0 668.8 C612.0 669.2 613.0 669.6 613.9 670.1 C614.9 670.7 615.6 671.6 616.5 672.2 C617.3 672.9 618.5 673.3 619.2 674.0 C619.9 674.8 620.2 675.9 620.5 676.9 C620.8 677.9 620.9 678.9 621.0 680.0 C621.2 681.1 621.2 682.3 621.5 683.4 C621.8 684.5 622.3 685.7 623.0 686.5 C623.7 687.3 624.7 687.6 625.6 688.1 C626.4 688.7 626.7 689.5 628.0 690.0 C629.2 690.6 631.7 691.2 633.0 691.3 C634.4 691.5 635.0 691.1 636.0 691.1 C637.0 691.0 638.0 691.3 639.0 691.1 C640.1 690.9 641.2 690.3 642.2 690.0 C643.3 689.6 644.9 689.1 645.5 689.0" fill="none" stroke="#fff" stroke-width="2.6" stroke-opacity="0.75" stroke-linecap="round" stroke-linejoin="round"/>
<path d="M585.5 664.0 C586.1 664.1 588.1 664.3 589.3 664.5 C590.6 664.7 591.9 665.0 593.2 665.1 C594.4 665.3 595.8 665.1 597.0 665.4 C598.2 665.7 599.4 666.4 600.6 666.7 C601.8 667.0 603.0 667.1 604.3 667.2 C605.5 667.4 606.9 667.6 608.0 667.9 C609.1 668.1 610.0 668.5 611.0 668.8 C612.0 669.2 613.0 669.6 613.9 670.1 C614.9 670.7 615.6 671.6 616.5 672.2 C617.3 672.9 618.5 673.3 619.2 674.0 C619.9 674.8 620.2 675.9 620.5 676.9 C620.8 677.9 620.9 678.9 621.0 680.0 C621.2 681.1 621.2 682.3 621.5 683.4 C621.8 684.5 622.3 685.7 623.0 686.5 C623.7 687.3 624.7 687.6 625.6 688.1 C626.4 688.7 626.7 689.5 628.0 690.0 C629.2 690.6 631.7 691.2 633.0 691.3 C634.4 691.5 635.0 691.1 636.0 691.1 C637.0 691.0 638.0 691.3 639.0 691.1 C640.1 690.9 641.2 690.3 642.2 690.0 C643.3 689.6 644.9 689.1 645.5 689.0" fill="none" stroke="#7a7a7a" stroke-width="1" stroke-linecap="round" stroke-linejoin="round"/>
<path d="M619.2 676.0 C618.7 676.5 617.1 678.0 615.9 678.9 C614.7 679.8 613.3 680.5 612.1 681.1 C610.9 681.8 609.9 682.1 608.8 682.6 C607.7 683.1 606.6 684.2 605.6 684.2 C604.5 684.2 603.5 682.9 602.4 682.6 C601.3 682.3 600.0 682.3 598.9 682.2 C597.9 682.0 597.0 681.8 596.0 681.7 C595.0 681.6 594.0 681.5 593.0 681.6 C592.0 681.6 590.9 681.8 589.9 682.1 C588.9 682.5 588.1 683.1 587.0 683.6 C586.0 684.1 584.9 684.7 583.8 685.2 C582.7 685.6 581.5 685.6 580.5 686.6 C579.6 687.5 578.7 689.6 578.1 691.1 C577.5 692.5 577.1 694.6 577.0 695.3" fill="none" stroke="#fff" stroke-width="2.6" stroke-opacity="0.75" stroke-linecap="round" stroke-linejoin="round"/>
<path d="M619.2 676.0 C618.7 676.5 617.1 678.0 615.9 678.9 C614.7 679.8 613.3 680.5 612.1 681.1 C610.9 681.8 609.9 682.1 608.8 682.6 C607.7 683.1 606.6 684.2 605.6 684.2 C604.5 684.2 603.5 682.9 602.4 682.6 C601.3 682.3 600.0 682.3 598.9 682.2 C597.9 682.0 597.0 681.8 596.0 681.7 C595.0 681.6 594.0 681.5 593.0 681.6 C592.0 681.6 590.9 681.8 589.9 682.1 C588.9 682.5 588.1 683.1 587.0 683.6 C586.0 684.1 584.9 684.7 583.8 685.2 C582.7 685.6 581.5 685.6 580.5 686.6 C579.6 687.5 578.7 689.6 578.1 691.1 C577.5 692.5 577.1 694.6 577.0 695.3" fill="none" stroke="#7a7a7a" stroke-width="1" stroke-linecap="round" stroke-linejoin="round"/>
<path d="M660.0 493.8 C660.6 494.0 662.5 495.0 663.9 495.4 C665.2 495.7 666.7 495.7 668.0 496.0 C669.3 496.3 670.5 496.6 671.6 497.0 C672.8 497.5 673.7 498.4 674.9 498.9 C676.2 499.4 677.7 499.6 679.0 500.0 C680.4 500.5 681.7 501.3 683.0 501.6 C684.2 502.0 685.5 501.8 686.7 502.1 C687.8 502.5 689.5 503.4 690.0 503.6" fill="none" stroke="#fff" stroke-width="2.6" stroke-opacity="0.75" stroke-linecap="round" stroke-linejoin="round"/>
<path d="M660.0 493.8 C660.6 494.0 662.5 495.0 663.9 495.4 C665.2 495.7 666.7 495.7 668.0 496.0 C669.3 496.3 670.5 496.6 671.6 497.0 C672.8 497.5 673.7 498.4 674.9 498.9 C676.2 499.4 677.7 499.6 679.0 500.0 C680.4 500.5 681.7 501.3 683.0 501.6 C684.2 502.0 685.5 501.8 686.7 502.1 C687.8 502.5 689.5 503.4 690.0 503.6" fill="none" stroke="#7a7a7a" stroke-width="1" stroke-linecap="round" stroke-linejoin="round"/>
<path d="M717.5 501.2 C718.0 501.1 719.7 501.0 720.8 500.6 C721.8 500.2 722.6 499.2 723.7 498.8 C724.7 498.5 725.9 498.7 727.0 498.4 C728.0 498.1 728.9 497.3 730.0 496.9 C731.0 496.5 732.2 496.5 733.2 496.1 C734.3 495.7 735.2 495.0 736.2 494.6 C737.2 494.2 738.4 494.1 739.4 493.7 C740.5 493.4 741.6 493.1 742.5 492.5 C743.5 492.0 744.1 490.8 745.0 490.2 C746.0 489.6 747.3 489.6 748.3 489.0 C749.3 488.5 750.0 487.6 750.9 486.9 C751.9 486.1 753.0 485.4 754.0 484.7 C755.1 484.0 756.2 483.4 757.2 482.6 C758.2 481.8 759.1 480.8 760.0 480.0 C761.0 479.3 762.0 478.7 762.8 477.9 C763.7 477.1 764.3 476.0 765.2 475.2 C766.0 474.3 767.2 473.8 768.0 473.0 C768.8 472.2 769.3 471.3 770.1 470.5 C770.9 469.8 771.9 469.2 772.7 468.5 C773.5 467.8 774.5 466.5 774.9 466.1" fill="none" stroke="#fff" stroke-width="2.6" stroke-opacity="0.75" stroke-linecap="round" stroke-linejoin="round"/>
<path d="M717.5 501.2 C718.0 501.1 719.7 501.0 720.8 500.6 C721.8 500.2 722.6 499.2 723.7 498.8 C724.7 498.5 725.9 498.7 727.0 498.4 C728.0 498.1 728.9 497.3 730.0 496.9 C731.0 496.5 732.2 496.5 733.2 496.1 C734.3 495.7 735.2 495.0 736.2 494.6 C737.2 494.2 738.4 494.1 739.4 493.7 C740.5 493.4 741.6 493.1 742.5 492.5 C743.5 492.0 744.1 490.8 745.0 490.2 C746.0 489.6 747.3 489.6 748.3 489.0 C749.3 488.5 750.0 487.6 750.9 486.9 C751.9 486.1 753.0 485.4 754.0 484.7 C755.1 484.0 756.2 483.4 757.2 482.6 C758.2 481.8 759.1 480.8 760.0 480.0 C761.0 479.3 762.0 478.7 762.8 477.9 C763.7 477.1 764.3 476.0 765.2 475.2 C766.0 474.3 767.2 473.8 768.0 473.0 C768.8 472.2 769.3 471.3 770.1 470.5 C770.9 469.8 771.9 469.2 772.7 468.5 C773.5 467.8 774.5 466.5 774.9 466.1" fill="none" stroke="#7a7a7a" stroke-width="1" stroke-linecap="round" stroke-linejoin="round"/>
<path d="M745.0 498.8 C745.4 498.5 746.7 497.7 747.5 497.1 C748.4 496.6 749.2 496.0 750.0 495.4 C750.9 494.9 751.6 494.2 752.5 493.6 C753.3 493.1 754.2 492.6 755.0 492.1 C755.9 491.5 756.7 490.8 757.5 490.2 C758.3 489.6 759.2 489.1 760.0 488.5 C760.8 487.8 761.5 487.0 762.3 486.4 C763.1 485.8 763.9 485.3 764.9 484.9 C765.9 484.5 767.3 484.5 768.4 484.1 C769.5 483.7 770.4 482.9 771.5 482.6 C772.6 482.2 773.9 482.3 775.0 482.1 C776.2 481.9 777.2 481.6 778.3 481.4 C779.4 481.1 780.5 480.7 781.6 480.5 C782.7 480.3 784.5 480.2 785.0 480.1" fill="none" stroke="#fff" stroke-width="2.6" stroke-opacity="0.75" stroke-linecap="round" stroke-linejoin="round"/>
<path d="M745.0 498.8 C745.4 498.5 746.7 497.7 747.5 497.1 C748.4 496.6 749.2 496.0 750.0 495.4 C750.9 494.9 751.6 494.2 752.5 493.6 C753.3 493.1 754.2 492.6 755.0 492.1 C755.9 491.5 756.7 490.8 757.5 490.2 C758.3 489.6 759.2 489.1 760.0 488.5 C760.8 487.8 761.5 487.0 762.3 486.4 C763.1 485.8 763.9 485.3 764.9 484.9 C765.9 484.5 767.3 484.5 768.4 484.1 C769.5 483.7 770.4 482.9 771.5 482.6 C772.6 482.2 773.9 482.3 775.0 482.1 C776.2 481.9 777.2 481.6 778.3 481.4 C779.4 481.1 780.5 480.7 781.6 480.5 C782.7 480.3 784.5 480.2 785.0 480.1" fill="none" stroke="#7a7a7a" stroke-width="1" stroke-linecap="round" stroke-linejoin="round"/>
<path d="M722.5 500.0 C723.1 499.9 724.8 499.2 725.9 499.1 C727.1 499.0 728.3 499.4 729.5 499.3 C730.7 499.3 731.9 499.1 733.0 498.9 C734.2 498.6 735.3 498.1 736.4 498.0 C737.6 497.8 738.8 497.8 740.0 497.8 C741.1 497.8 742.3 498.3 743.4 498.2 C744.5 498.1 745.6 497.5 746.7 497.3 C747.8 497.1 748.9 497.0 750.0 496.9 C751.1 496.9 752.2 497.0 753.3 497.0 C754.5 497.0 755.6 497.2 756.7 497.0 C757.8 496.9 758.9 496.1 760.0 496.2 C761.1 496.2 762.1 497.1 763.2 497.3 C764.4 497.5 765.6 497.1 766.7 497.2 C767.8 497.4 768.9 497.9 770.0 498.2 C771.1 498.5 772.2 498.8 773.3 498.9 C774.4 499.0 775.6 498.7 776.7 498.9 C777.9 499.1 778.9 500.1 780.0 500.2 C781.1 500.3 782.2 499.7 783.3 499.6 C784.5 499.5 785.6 499.5 786.7 499.5 C787.8 499.6 789.4 500.0 790.0 500.0" fill="none" stroke="#fff" stroke-width="2.6" stroke-opacity="0.75" stroke-linecap="round" stroke-linejoin="round"/>
<path d="M722.5 500.0 C723.1 499.9 724.8 499.2 725.9 499.1 C727.1 499.0 728.3 499.4 729.5 499.3 C730.7 499.3 731.9 499.1 733.0 498.9 C734.2 498.6 735.3 498.1 736.4 498.0 C737.6 497.8 738.8 497.8 740.0 497.8 C741.1 497.8 742.3 498.3 743.4 498.2 C744.5 498.1 745.6 497.5 746.7 497.3 C747.8 497.1 748.9 497.0 750.0 496.9 C751.1 496.9 752.2 497.0 753.3 497.0 C754.5 497.0 755.6 497.2 756.7 497.0 C757.8 496.9 758.9 496.1 760.0 496.2 C761.1 496.2 762.1 497.1 763.2 497.3 C764.4 497.5 765.6 497.1 766.7 497.2 C767.8 497.4 768.9 497.9 770.0 498.2 C771.1 498.5 772.2 498.8 773.3 498.9 C774.4 499.0 775.6 498.7 776.7 498.9 C777.9 499.1 778.9 500.1 780.0 500.2 C781.1 500.3 782.2 499.7 783.3 499.6 C784.5 499.5 785.6 499.5 786.7 499.5 C787.8 499.6 789.4 500.0 790.0 500.0" fill="none" stroke="#7a7a7a" stroke-width="1" stroke-linecap="round" stroke-linejoin="round"/>
<path d="M755.0 516.2 C755.2 516.8 755.5 518.7 756.1 519.8 C756.6 520.9 757.6 521.8 758.1 523.0 C758.6 524.1 758.6 525.3 759.0 526.5 C759.3 527.7 760.0 528.7 760.2 530.0 C760.3 531.2 760.2 532.7 760.0 534.1 C759.8 535.4 759.5 536.8 759.2 538.0 C758.8 539.3 758.4 540.3 758.1 541.5 C757.8 542.6 757.7 544.4 757.6 545.0" fill="none" stroke="#fff" stroke-width="2.6" stroke-opacity="0.75" stroke-linecap="round" stroke-linejoin="round"/>
<path d="M755.0 516.2 C755.2 516.8 755.5 518.7 756.1 519.8 C756.6 520.9 757.6 521.8 758.1 523.0 C758.6 524.1 758.6 525.3 759.0 526.5 C759.3 527.7 760.0 528.7 760.2 530.0 C760.3 531.2 760.2 532.7 760.0 534.1 C759.8 535.4 759.5 536.8 759.2 538.0 C758.8 539.3 758.4 540.3 758.1 541.5 C757.8 542.6 757.7 544.4 757.6 545.0" fill="none" stroke="#7a7a7a" stroke-width="1" stroke-linecap="round" stroke-linejoin="round"/>
<path d="M710.0 400.0 C710.5 400.3 712.2 401.1 713.3 401.8 C714.4 402.4 715.4 403.1 716.5 403.6 C717.7 404.1 718.9 404.3 720.0 404.9 C721.1 405.5 722.1 406.4 723.1 407.0 C724.2 407.7 725.3 408.2 726.5 408.7 C727.6 409.2 728.8 409.8 729.9 410.2 C731.0 410.6 731.9 410.9 733.0 411.1 C734.0 411.4 735.1 411.5 736.1 411.8 C737.0 412.2 737.9 413.0 738.9 413.3 C739.9 413.7 741.0 413.6 742.1 413.8 C743.1 414.1 744.1 414.7 745.2 414.9 C746.3 415.2 747.5 415.0 748.6 415.4 C749.7 415.7 750.6 416.6 751.7 416.9 C752.7 417.3 754.0 417.2 755.0 417.5 C756.0 417.9 756.9 418.6 757.9 419.0 C758.9 419.3 760.1 419.1 761.1 419.5 C762.2 419.8 763.0 420.6 764.0 421.1 C764.9 421.6 765.7 422.3 766.7 422.6 C767.7 423.0 768.9 422.9 769.8 423.3 C770.8 423.7 771.5 424.6 772.6 424.8 C773.7 425.1 775.1 424.8 776.3 425.0 C777.5 425.1 778.8 425.3 780.0 425.6 C781.3 425.8 783.1 426.2 783.7 426.4" fill="none" stroke="#fff" stroke-width="2.6" stroke-opacity="0.75" stroke-linecap="round" stroke-linejoin="round"/>
<path d="M710.0 400.0 C710.5 400.3 712.2 401.1 713.3 401.8 C714.4 402.4 715.4 403.1 716.5 403.6 C717.7 404.1 718.9 404.3 720.0 404.9 C721.1 405.5 722.1 406.4 723.1 407.0 C724.2 407.7 725.3 408.2 726.5 408.7 C727.6 409.2 728.8 409.8 729.9 410.2 C731.0 410.6 731.9 410.9 733.0 411.1 C734.0 411.4 735.1 411.5 736.1 411.8 C737.0 412.2 737.9 413.0 738.9 413.3 C739.9 413.7 741.0 413.6 742.1 413.8 C743.1 414.1 744.1 414.7 745.2 414.9 C746.3 415.2 747.5 415.0 748.6 415.4 C749.7 415.7 750.6 416.6 751.7 416.9 C752.7 417.3 754.0 417.2 755.0 417.5 C756.0 417.9 756.9 418.6 757.9 419.0 C758.9 419.3 760.1 419.1 761.1 419.5 C762.2 419.8 763.0 420.6 764.0 421.1 C764.9 421.6 765.7 422.3 766.7 422.6 C767.7 423.0 768.9 422.9 769.8 423.3 C770.8 423.7 771.5 424.6 772.6 424.8 C773.7 425.1 775.1 424.8 776.3 425.0 C777.5 425.1 778.8 425.3 780.0 425.6 C781.3 425.8 783.1 426.2 783.7 426.4" fill="none" stroke="#7a7a7a" stroke-width="1" stroke-linecap="round" stroke-linejoin="round"/>
<path d="M761.5 459 L764 465 L763.5 471" fill="none" stroke="#111" stroke-width="1.3"/>
<path d="M788 193 l3 -3 l2 2 l-2 4z" fill="none" stroke="#111" stroke-width="1"/>
<path d="M867 94 L873 94.5 L876 96 L879 94.5 L884 94.5 L890 94 L885 96.5 L880 99 L876 97.5 L872 99.5 L869 97Z" fill="#111" stroke="#111" stroke-width="1"/>
<rect x="271" y="507.6" width="3.2" height="1.4" fill="#222"/>
<path d="M273.3 562 L271 567 L270.3 572.5" stroke="#222" stroke-width="1.1" fill="none"/>
<circle cx="1000.5" cy="731" r="0.9" fill="#999"/>
<path d="M757 547.5 L765 548.5 L775 550.5 L785 552" stroke="#111" stroke-width="3" fill="none"/>
<path d="M270.8 95.4 L276 94.6 M278.2 105.8 L283.8 102" stroke="#111" stroke-width="2" fill="none" stroke-linecap="round"/>
<path d="M282.5 118.5 L288 120 L291 124 L287 126.5 L284 123 M286 121.5 L289 126" stroke="#111" stroke-width="2.1" fill="none" stroke-linejoin="round"/>
<path d="M279.7 128.2 L283.8 128.2" stroke="#111" stroke-width="1.6" fill="none"/>
<path d="M295.3 143 L298 143.8 M293.4 149.1 L296 147" stroke="#111" stroke-width="2" fill="none"/>
<path d="M325 188 L329 191 L332 196 L329.5 199 L327.5 194Z" fill="#111" stroke="#111" stroke-width="1"/>
<path d="M336.3 216 L345 221 L338 222.8Z" fill="#111" stroke="#111" stroke-width="0.8"/>
<path d="M303 168 L309 170 L313 178 L318 183" stroke="#111" stroke-width="2.4" fill="none"/>
<path d="M512.5 662 L517 658.3 L523 657.8 L524.5 660.5 L519.5 663 L516 666.5Z" fill="#111"/>
<path d="M503.8 639 L507 646.5 L509.8 652.5" stroke="#111" stroke-width="2.8" fill="none"/>
<path d="M710.0 644.0 L714.0 642.6" stroke="#111" stroke-width="1.5"/>
<path d="M721.0 643.0 L727.0 641.5" stroke="#111" stroke-width="1.5"/>
<path d="M733.0 640.5 L738.0 639.5" stroke="#111" stroke-width="1.5"/>
<path d="M763.5 652.0 L768.0 652.0" stroke="#111" stroke-width="1.5"/>
<path d="M797.7 664.0 L801.4 661.9 L803.0 659.5 L804.8 657.2 L807.1 655.5 L807.7 652.5 L808.9 649.7 L809.9 646.2 L810.4 642.6 L811.3 640.1 L811.3 637.4 L812.2 634.8 L809.8 633.5 L807.7 632.0 L807.0 629.3 L805.6 627.0 L807.9 626.1 L810.0 624.6 L813.9 622.6 L816.1 620.4 L817.6 617.7 L815.3 615.7 L813.2 613.5 L811.4 611.3 L809.2 609.5 L807.1 607.6" fill="none" stroke="#111" stroke-width="1.8" stroke-linejoin="round" stroke-linecap="round"/>
<path d="M790.6 595.0 L793.0 593.8 L795.1 592.1 L797.8 591.7 L800.5 590.6 L803.2 590.8 L806.0 590.7 L809.3 590.5 L812.6 590.1 L815.7 589.0 L819.0 588.3 L823.3 589.6 L824.7 592.6 L826.1 595.5 L827.9 597.6 L829.1 600.0 L830.9 602.0 L832.5 604.2 L834.9 606.1 L837.6 607.7 L840.2 609.2 L842.4 611.4 L844.6 613.0 L846.7 614.7 L848.8 616.4 L850.8 618.3 L853.2 619.5 L855.2 621.4 L857.4 623.0 L859.3 625.0 L861.3 626.8 L863.5 628.4 L865.7 630.1 L867.5 632.2 L869.5 634.1 L870.3 636.6 L871.3 639.1 L872.0 641.8 L873.2 644.2 L873.9 646.9 L875.3 649.4 L876.4 652.1 L878.3 654.5 L879.7 657.0 L881.0 659.6 L883.1 661.8 L884.8 664.3 L886.6 666.8 L889.3 668.8 L892.3 670.3 L893.5 672.6 L894.6 674.9 L895.7 677.2 L896.5 679.6 L898.4 681.8 L900.3 683.7 L902.1 685.9 L903.9 688.9 L906.2 691.5 L906.3 694.0 L907.1 696.5 L907.2 699.0 L907.4 701.5 L911.0 699.0 L914.9 701.6 L915.9 704.3 L916.0 707.3 L917.1 710.0 L918.1 713.0 L919.4 715.9 L919.9 719.0 L920.7 721.8 L921.4 724.6 L922.4 727.3 L923.4 730.0 L924.5 732.9 L925.1 735.9 L926.3 738.7 L927.5 741.5" fill="none" stroke="#111" stroke-width="1.9" stroke-linejoin="round" stroke-linecap="round"/>
<path d="M781.0 604.0 L782.4 601.1 L783.2 598.1 L785.3 596.5 L788.1 596.3 L790.5 594.8 L791.5 597.6 L793.3 599.9 L797.1 598.2 L799.9 599.5 L801.9 602.1 L801.1 604.9 L800.8 608.0 L798.5 607.6 L796.1 606.7 L792.8 609.8 L790.2 609.6 L788.0 608.0 L784.8 610.8 L781.6 608.9Z" fill="none" stroke="#111" stroke-width="2.2" stroke-linejoin="round" stroke-linecap="round"/>
<path d="M784.0 603.0 L786.4 601.3 L789.2 600.3 L789.4 602.7 L791.2 604.9 L793.7 604.6 L796.0 603.1 L799.2 604.7" fill="none" stroke="#111" stroke-width="1.8" stroke-linejoin="round" stroke-linecap="round"/>
<path d="M786.0 607.0 L788.3 605.3 L789.9 602.9 L792.3 604.1 L794.0 606.1" fill="none" stroke="#111" stroke-width="1.6" stroke-linejoin="round" stroke-linecap="round"/>
<path d="M807.0 604.2 L809.5 604.1 L812.0 604.0 L814.5 604.0 L817.0 603.4 L820.0 605.3 L822.5 607.8 L824.8 608.9 L826.9 610.2 L828.9 611.9 L831.3 612.8 L833.1 614.6 L835.4 615.6 L834.8 618.4 L832.0 619.9 L829.7 622.0 L826.8 621.6 L824.0 620.4 L822.2 618.7 L820.3 617.1 L818.3 615.6 L816.3 613.7 L813.6 612.8 L811.7 610.5 L809.3 609.2 L807.0 607.8Z" fill="none" stroke="#111" stroke-width="1.7" stroke-linejoin="round" stroke-linecap="round"/>
<path d="M806 605.5 L813 609 L820 614 M815 603.5 L821 607.5 L825 610.5 M822 617 L826 620.5" stroke="#111" stroke-width="3" fill="none" stroke-linecap="round"/>
<path d="M770.7 652.8 L773.8 651.4 L777.0 650.3 L780.0 649.0 L782.9 649.7 L785.7 650.7 L788.5 651.8 L791.3 654.3 L794.0 656.7 L795.3 659.2 L796.3 661.7 L797.8 664.0" fill="none" stroke="#111" stroke-width="1.6" stroke-linejoin="round" stroke-linecap="round"/>
<path d="M770.7 652.8 L775.6 653.7 L779.2 654.5 L782.8 655.5 L785.7 657.4 L788.5 659.7 L791.0 662.4 L793.4 665.3 L796.2 668.3" fill="none" stroke="#111" stroke-width="1.6" stroke-linejoin="round" stroke-linecap="round"/>
<path d="M788.5 652.5 L793.5 657.5 L797 664.5 L795.5 667 L791.5 662 L787.5 657Z" fill="#111" stroke="#111" stroke-width="1.2"/>
<path d="M796.3 668.2 L795.3 673.0 L797.1 676.5 L797.6 679.6 L797.2 682.8 L797.6 686.0 L797.6 688.6 L797.3 691.3 L797.0 693.9 L796.8 696.5 L795.0 698.8 L792.9 700.9 L791.1 703.5 L790.1 706.5 L789.9 709.8 L789.1 713.0 L788.0 715.9 L787.5 719.0 L786.8 721.7 L786.3 724.4 L786.2 727.2 L786.0 730.0 L786.1 732.9 L785.9 735.8 L785.0 738.6 L784.9 741.5" fill="none" stroke="#111" stroke-width="1.8" stroke-linejoin="round" stroke-linecap="round"/>
<path d="M782.5 698 L784 710 L781 716 L778 723 L777 731 L776.5 741.5 M781 716 L786 724 L783 732 L787 741" fill="none" stroke="#111" stroke-width="1.5"/>
<path d="M780 718 L786 716 L788 722 L782 726Z" fill="#111"/>
<path d="M771.6 613.0 L775.0 612.1 L777.4 613.9 L779.5 616.0 L778.5 620.0 L774.5 619.1 L772.4 616.6Z" fill="none" stroke="#111" stroke-width="1.5" stroke-linejoin="round" stroke-linecap="round"/>
<path d="M802 618.5 L804.8 617.7 L804 621.3 L802.3 621Z M799.2 633.5 L802.2 632.6 L802.7 636.5 L800 636.9Z" fill="#111" stroke="#111" stroke-width="1"/>
<path d="M855 621.5 L860 626 M873 646 L876 651 M884 662 L887 667.5 M895 678 L899 684" stroke="#111" stroke-width="2.8" fill="none"/>
<path d="M838.2 629.5 L839.2 637.5" stroke="#111" stroke-width="2.6" fill="none"/>
<path d="M901 696 L906 694 L907 703 L901 704 L903 708" stroke="#111" stroke-width="2.2" fill="none"/>
<path d="M837 714 L840 719 L846 722 L842 724" stroke="#111" stroke-width="2.2" fill="none"/>
<path d="M874 737 L878 733 L878 741" stroke="#111" stroke-width="2" fill="none"/>
<path d="M841.8 617.7 C841.4 618.8 840.1 621.8 839.5 624.0 C838.9 626.2 838.5 628.3 838.4 631.0 C838.3 633.7 838.7 637.6 839.0 640.0 C839.3 642.4 839.2 642.6 840.4 645.4 C841.6 648.2 844.1 653.0 846.0 657.0 C847.9 661.0 850.8 667.5 851.8 669.6" fill="none" stroke="#6376ad" stroke-width="1.1"/>
<path d="M797.5 675.2 C798.9 675.6 803.1 676.5 806.0 677.5 C808.9 678.5 812.7 679.4 815.0 681.5 C817.3 683.6 818.3 687.1 820.0 690.0 C821.7 692.9 823.0 696.2 825.0 699.0 C827.0 701.8 829.5 704.5 832.0 707.0 C834.5 709.5 837.8 712.0 840.0 714.0 C842.2 716.0 843.3 717.3 845.0 719.0 C846.7 720.7 848.5 722.0 850.0 724.0 C851.5 726.0 852.8 728.5 854.0 731.0 C855.2 733.5 856.9 737.7 857.5 739.0" fill="none" stroke="#6376ad" stroke-width="1.1"/>
<path d="M886.2 669.0 C885.4 669.5 882.5 670.8 881.0 672.0 C879.5 673.2 878.2 674.2 877.5 676.5 C876.8 678.8 877.4 682.7 877.0 686.0 C876.6 689.3 876.2 693.8 875.0 696.5 C873.8 699.2 871.7 700.3 870.0 702.0 C868.3 703.7 866.0 703.5 865.0 706.5 C864.0 709.5 864.2 714.2 864.0 720.0 C863.8 725.8 863.8 737.9 863.8 741.5" fill="none" stroke="#6376ad" stroke-width="1.1"/>
<path d="M790.0 719.0 C791.0 719.2 793.9 719.6 796.0 720.0 C798.1 720.4 800.0 720.6 802.5 721.5 C805.0 722.4 808.1 724.0 811.0 725.5 C813.9 727.0 816.5 728.7 820.0 730.2 C823.5 731.8 827.8 733.5 832.0 735.0 C836.2 736.5 842.8 738.3 845.0 739.0" fill="none" stroke="#6376ad" stroke-width="1.1"/>
<path d="M903.8 706.5 C903.3 707.2 901.6 709.3 901.0 711.0 C900.4 712.7 899.5 714.5 900.0 716.5 C900.5 718.5 902.8 720.9 904.0 723.0 C905.2 725.1 907.8 727.2 907.5 729.0 C907.2 730.8 903.7 732.3 902.0 734.0 C900.3 735.7 898.2 738.2 897.5 739.0" fill="none" stroke="#6376ad" stroke-width="1.1"/>
<path d="M877.5 733.0 C878.8 732.7 882.5 731.2 885.0 731.0 C887.5 730.8 890.0 731.5 892.5 731.5 C895.0 731.5 897.5 731.4 900.0 731.0 C902.5 730.6 905.5 730.2 907.5 729.0 C909.5 727.8 910.3 725.2 912.0 724.0 C913.7 722.8 916.6 721.9 917.5 721.5" fill="none" stroke="#6376ad" stroke-width="1.1"/>
<rect x="760" y="742" width="180" height="3" fill="#fff"/>
<rect x="308.0" y="170.5" width="7.5" height="8.5" fill="#000"/>
<rect x="319.2" y="166.8" width="58.2" height="16.5" fill="none" stroke="#fff" stroke-width="2.6" stroke-opacity="0.85"/>
<rect x="319.2" y="166.8" width="58.2" height="16.5" fill="none" stroke="#777" stroke-width="1"/>
<text x="322.8" y="180.8" font-size="14" font-weight="bold" class="sf" textLength="50.8" lengthAdjust="spacingAndGlyphs" fill="#fff" stroke="#fff" stroke-width="2.2" stroke-opacity="0.5" stroke-linejoin="round">Karwar</text>
<text x="322.8" y="180.8" font-size="14" font-weight="bold" class="sf" textLength="50.8" lengthAdjust="spacingAndGlyphs" fill="#0a0a0a" stroke="#0a0a0a" stroke-width="0.35">Karwar</text>
<rect x="428.8" y="243.8" width="6.8" height="6.8" fill="#000"/>
<rect x="438.5" y="240.0" width="82.2" height="14.5" fill="none" stroke="#fff" stroke-width="2.6" stroke-opacity="0.85"/>
<rect x="438.5" y="240.0" width="82.2" height="14.5" fill="none" stroke="#777" stroke-width="1"/>
<text x="442.0" y="252.0" font-size="14" font-weight="bold" class="sf" textLength="74.8" lengthAdjust="spacingAndGlyphs" fill="#fff" stroke="#fff" stroke-width="2.2" stroke-opacity="0.5" stroke-linejoin="round">Shivamoga</text>
<text x="442.0" y="252.0" font-size="14" font-weight="bold" class="sf" textLength="74.8" lengthAdjust="spacingAndGlyphs" fill="#0a0a0a" stroke="#0a0a0a" stroke-width="0.35">Shivamoga</text>
<rect x="573.5" y="102.5" width="7.0" height="7.0" fill="#000"/>
<rect x="583.5" y="97.5" width="48.2" height="16.5" fill="none" stroke="#fff" stroke-width="2.6" stroke-opacity="0.85"/>
<rect x="583.5" y="97.5" width="48.2" height="16.5" fill="none" stroke="#777" stroke-width="1"/>
<text x="587.0" y="111.5" font-size="14" font-weight="bold" class="sf" textLength="40.8" lengthAdjust="spacingAndGlyphs" fill="#fff" stroke="#fff" stroke-width="2.2" stroke-opacity="0.5" stroke-linejoin="round">Adoni</text>
<text x="587.0" y="111.5" font-size="14" font-weight="bold" class="sf" textLength="40.8" lengthAdjust="spacingAndGlyphs" fill="#0a0a0a" stroke="#0a0a0a" stroke-width="0.35">Adoni</text>
<rect x="599.2" y="182.8" width="7.0" height="7.0" fill="#000"/>
<rect x="609.5" y="178.5" width="82.2" height="14.8" fill="none" stroke="#fff" stroke-width="2.6" stroke-opacity="0.85"/>
<rect x="609.5" y="178.5" width="82.2" height="14.8" fill="none" stroke="#777" stroke-width="1"/>
<text x="613.0" y="190.8" font-size="14" font-weight="bold" class="sf" textLength="74.8" lengthAdjust="spacingAndGlyphs" fill="#fff" stroke="#fff" stroke-width="2.2" stroke-opacity="0.5" stroke-linejoin="round">Anantapur</text>
<text x="613.0" y="190.8" font-size="14" font-weight="bold" class="sf" textLength="74.8" lengthAdjust="spacingAndGlyphs" fill="#0a0a0a" stroke="#0a0a0a" stroke-width="0.35">Anantapur</text>
<rect x="802.0" y="111.0" width="7.4" height="7.0" fill="#000"/>
<rect x="811.8" y="107.0" width="56.5" height="14.0" fill="#fff" stroke="#fff" stroke-width="2.6" stroke-opacity="0.85"/>
<rect x="811.8" y="107.0" width="56.5" height="14.0" fill="none" stroke="#777" stroke-width="1"/>
<text x="815.2" y="118.5" font-size="14" font-weight="bold" class="sf" textLength="49.0" lengthAdjust="spacingAndGlyphs" fill="#fff" stroke="#fff" stroke-width="2.2" stroke-opacity="0.5" stroke-linejoin="round">Ongole</text>
<text x="815.2" y="118.5" font-size="14" font-weight="bold" class="sf" textLength="49.0" lengthAdjust="spacingAndGlyphs" fill="#0a0a0a" stroke="#0a0a0a" stroke-width="0.35">Ongole</text>
<rect x="796.5" y="200.5" width="7.0" height="7.0" fill="#000"/>
<rect x="806.5" y="195.0" width="59.8" height="16.5" fill="#fff" stroke="#fff" stroke-width="2.6" stroke-opacity="0.85"/>
<rect x="806.5" y="195.0" width="59.8" height="16.5" fill="none" stroke="#777" stroke-width="1"/>
<text x="810.0" y="209.0" font-size="14" font-weight="bold" class="sf" textLength="52.2" lengthAdjust="spacingAndGlyphs" fill="#fff" stroke="#fff" stroke-width="2.2" stroke-opacity="0.5" stroke-linejoin="round">Nellore</text>
<text x="810.0" y="209.0" font-size="14" font-weight="bold" class="sf" textLength="52.2" lengthAdjust="spacingAndGlyphs" fill="#0a0a0a" stroke="#0a0a0a" stroke-width="0.35">Nellore</text>
<rect x="446.8" y="295.5" width="7.0" height="7.0" fill="#000"/>
<rect x="456.2" y="290.2" width="112.2" height="16.5" fill="none" stroke="#fff" stroke-width="2.6" stroke-opacity="0.85"/>
<rect x="456.2" y="290.2" width="112.2" height="16.5" fill="none" stroke="#777" stroke-width="1"/>
<text x="459.8" y="304.2" font-size="14" font-weight="bold" class="sf" textLength="104.8" lengthAdjust="spacingAndGlyphs" fill="#fff" stroke="#fff" stroke-width="2.2" stroke-opacity="0.5" stroke-linejoin="round">Chickmagalur</text>
<text x="459.8" y="304.2" font-size="14" font-weight="bold" class="sf" textLength="104.8" lengthAdjust="spacingAndGlyphs" fill="#0a0a0a" stroke="#0a0a0a" stroke-width="0.35">Chickmagalur</text>
<rect x="368.8" y="333.0" width="7.0" height="7.5" fill="#000"/>
<rect x="378.0" y="329.0" width="81.0" height="14.5" fill="none" stroke="#fff" stroke-width="2.6" stroke-opacity="0.85"/>
<rect x="378.0" y="329.0" width="81.0" height="14.5" fill="none" stroke="#777" stroke-width="1"/>
<text x="381.5" y="341.0" font-size="14" font-weight="bold" class="sf" textLength="73.5" lengthAdjust="spacingAndGlyphs" fill="#fff" stroke="#fff" stroke-width="2.2" stroke-opacity="0.5" stroke-linejoin="round">Mangalore</text>
<text x="381.5" y="341.0" font-size="14" font-weight="bold" class="sf" textLength="73.5" lengthAdjust="spacingAndGlyphs" fill="#0a0a0a" stroke="#0a0a0a" stroke-width="0.35">Mangalore</text>
<rect x="520.8" y="379.0" width="7.0" height="7.0" fill="#000"/>
<rect x="530.5" y="375.2" width="56.0" height="14.0" fill="none" stroke="#fff" stroke-width="2.6" stroke-opacity="0.85"/>
<rect x="530.5" y="375.2" width="56.0" height="14.0" fill="none" stroke="#777" stroke-width="1"/>
<text x="534.0" y="386.8" font-size="14" font-weight="bold" class="sf" textLength="48.5" lengthAdjust="spacingAndGlyphs" fill="#fff" stroke="#fff" stroke-width="2.2" stroke-opacity="0.5" stroke-linejoin="round">Mysore</text>
<text x="534.0" y="386.8" font-size="14" font-weight="bold" class="sf" textLength="48.5" lengthAdjust="spacingAndGlyphs" fill="#0a0a0a" stroke="#0a0a0a" stroke-width="0.35">Mysore</text>
<rect x="750.2" y="267.2" width="7.0" height="7.0" fill="#000"/>
<rect x="760.2" y="263.5" width="64.0" height="14.0" fill="none" stroke="#fff" stroke-width="2.6" stroke-opacity="0.85"/>
<rect x="760.2" y="263.5" width="64.0" height="14.0" fill="none" stroke="#777" stroke-width="1"/>
<text x="763.8" y="275.0" font-size="14" font-weight="bold" class="sf" textLength="56.5" lengthAdjust="spacingAndGlyphs" fill="#fff" stroke="#fff" stroke-width="2.2" stroke-opacity="0.5" stroke-linejoin="round">Tirupati</text>
<text x="763.8" y="275.0" font-size="14" font-weight="bold" class="sf" textLength="56.5" lengthAdjust="spacingAndGlyphs" fill="#0a0a0a" stroke="#0a0a0a" stroke-width="0.35">Tirupati</text>
<rect x="671.0" y="284.8" width="7.0" height="7.0" fill="#000"/>
<rect x="681.0" y="280.2" width="101.5" height="15.2" fill="none" stroke="#fff" stroke-width="2.6" stroke-opacity="0.85"/>
<rect x="681.0" y="280.2" width="101.5" height="15.2" fill="none" stroke="#777" stroke-width="1"/>
<text x="684.5" y="293.0" font-size="14" font-weight="bold" class="sf" textLength="94.0" lengthAdjust="spacingAndGlyphs" fill="#fff" stroke="#fff" stroke-width="2.2" stroke-opacity="0.5" stroke-linejoin="round">Madanapalle</text>
<text x="684.5" y="293.0" font-size="14" font-weight="bold" class="sf" textLength="94.0" lengthAdjust="spacingAndGlyphs" fill="#0a0a0a" stroke="#0a0a0a" stroke-width="0.35">Madanapalle</text>
<rect x="599.2" y="323.8" width="7.0" height="7.0" fill="#000"/>
<rect x="609.5" y="320.2" width="79.8" height="13.5" fill="none" stroke="#fff" stroke-width="2.6" stroke-opacity="0.85"/>
<rect x="609.5" y="320.2" width="79.8" height="13.5" fill="none" stroke="#777" stroke-width="1"/>
<text x="613.0" y="331.2" font-size="14" font-weight="bold" class="sf" textLength="72.2" lengthAdjust="spacingAndGlyphs" fill="#fff" stroke="#fff" stroke-width="2.2" stroke-opacity="0.5" stroke-linejoin="round">Bengaluru</text>
<text x="613.0" y="331.2" font-size="14" font-weight="bold" class="sf" textLength="72.2" lengthAdjust="spacingAndGlyphs" fill="#0a0a0a" stroke="#0a0a0a" stroke-width="0.35">Bengaluru</text>
<rect x="726.0" y="328.0" width="7.0" height="7.0" fill="#000"/>
<rect x="736.5" y="323.5" width="57.8" height="15.0" fill="none" stroke="#fff" stroke-width="2.6" stroke-opacity="0.85"/>
<rect x="736.5" y="323.5" width="57.8" height="15.0" fill="none" stroke="#777" stroke-width="1"/>
<text x="740.0" y="336.0" font-size="14" font-weight="bold" class="sf" textLength="50.2" lengthAdjust="spacingAndGlyphs" fill="#fff" stroke="#fff" stroke-width="2.2" stroke-opacity="0.5" stroke-linejoin="round">Vellore</text>
<text x="740.0" y="336.0" font-size="14" font-weight="bold" class="sf" textLength="50.2" lengthAdjust="spacingAndGlyphs" fill="#0a0a0a" stroke="#0a0a0a" stroke-width="0.35">Vellore</text>
<rect x="819.2" y="316.0" width="7.0" height="7.0" fill="#000"/>
<rect x="830.2" y="312.8" width="62.8" height="13.5" fill="#fff" stroke="#fff" stroke-width="2.6" stroke-opacity="0.85"/>
<rect x="830.2" y="312.8" width="62.8" height="13.5" fill="none" stroke="#777" stroke-width="1"/>
<text x="833.8" y="323.8" font-size="14" font-weight="bold" class="sf" textLength="55.2" lengthAdjust="spacingAndGlyphs" fill="#fff" stroke="#fff" stroke-width="2.2" stroke-opacity="0.5" stroke-linejoin="round">Chennai</text>
<text x="833.8" y="323.8" font-size="14" font-weight="bold" class="sf" textLength="55.2" lengthAdjust="spacingAndGlyphs" fill="#0a0a0a" stroke="#0a0a0a" stroke-width="0.35">Chennai</text>
<rect x="722.2" y="389.0" width="7.0" height="7.0" fill="#000"/>
<rect x="732.0" y="384.0" width="125.5" height="16.0" fill="none" stroke="#fff" stroke-width="2.6" stroke-opacity="0.85"/>
<rect x="732.0" y="384.0" width="125.5" height="16.0" fill="none" stroke="#777" stroke-width="1"/>
<text x="735.5" y="397.5" font-size="14" font-weight="bold" class="sf" textLength="118.0" lengthAdjust="spacingAndGlyphs" fill="#fff" stroke="#fff" stroke-width="2.2" stroke-opacity="0.5" stroke-linejoin="round">Tiruvannamalai</text>
<text x="735.5" y="397.5" font-size="14" font-weight="bold" class="sf" textLength="118.0" lengthAdjust="spacingAndGlyphs" fill="#0a0a0a" stroke="#0a0a0a" stroke-width="0.35">Tiruvannamalai</text>
<rect x="785.8" y="411.8" width="7.0" height="7.0" fill="#000"/>
<rect x="795.8" y="408.0" width="93.0" height="13.5" fill="#fff" stroke="#fff" stroke-width="2.6" stroke-opacity="0.85"/>
<rect x="795.8" y="408.0" width="93.0" height="13.5" fill="none" stroke="#777" stroke-width="1"/>
<text x="799.2" y="419.0" font-size="14" font-weight="bold" class="sf" textLength="85.5" lengthAdjust="spacingAndGlyphs" fill="#fff" stroke="#fff" stroke-width="2.2" stroke-opacity="0.5" stroke-linejoin="round">Pondicherry</text>
<text x="799.2" y="419.0" font-size="14" font-weight="bold" class="sf" textLength="85.5" lengthAdjust="spacingAndGlyphs" fill="#0a0a0a" stroke="#0a0a0a" stroke-width="0.35">Pondicherry</text>
<rect x="646.2" y="434.2" width="7.0" height="7.0" fill="#000"/>
<rect x="655.5" y="429.2" width="55.0" height="16.0" fill="none" stroke="#fff" stroke-width="2.6" stroke-opacity="0.85"/>
<rect x="655.5" y="429.2" width="55.0" height="16.0" fill="none" stroke="#777" stroke-width="1"/>
<text x="659.0" y="442.8" font-size="14" font-weight="bold" class="sf" textLength="47.5" lengthAdjust="spacingAndGlyphs" fill="#fff" stroke="#fff" stroke-width="2.2" stroke-opacity="0.5" stroke-linejoin="round">Salem</text>
<text x="659.0" y="442.8" font-size="14" font-weight="bold" class="sf" textLength="47.5" lengthAdjust="spacingAndGlyphs" fill="#0a0a0a" stroke="#0a0a0a" stroke-width="0.35">Salem</text>
<rect x="446.0" y="467.5" width="7.0" height="7.5" fill="#000"/>
<rect x="455.2" y="462.2" width="84.2" height="16.8" fill="none" stroke="#fff" stroke-width="2.6" stroke-opacity="0.85"/>
<rect x="455.2" y="462.2" width="84.2" height="16.8" fill="none" stroke="#777" stroke-width="1"/>
<text x="458.8" y="476.5" font-size="14" font-weight="bold" class="sf" textLength="76.8" lengthAdjust="spacingAndGlyphs" fill="#fff" stroke="#fff" stroke-width="2.2" stroke-opacity="0.5" stroke-linejoin="round">Kozhikode</text>
<text x="458.8" y="476.5" font-size="14" font-weight="bold" class="sf" textLength="76.8" lengthAdjust="spacingAndGlyphs" fill="#0a0a0a" stroke="#0a0a0a" stroke-width="0.35">Kozhikode</text>
<rect x="546.2" y="487.0" width="7.0" height="7.5" fill="#000"/>
<rect x="556.5" y="482.2" width="92.2" height="16.0" fill="none" stroke="#fff" stroke-width="2.6" stroke-opacity="0.85"/>
<rect x="556.5" y="482.2" width="92.2" height="16.0" fill="none" stroke="#777" stroke-width="1"/>
<text x="560.0" y="495.8" font-size="14" font-weight="bold" class="sf" textLength="84.8" lengthAdjust="spacingAndGlyphs" fill="#fff" stroke="#fff" stroke-width="2.2" stroke-opacity="0.5" stroke-linejoin="round">Coimbatore</text>
<text x="560.0" y="495.8" font-size="14" font-weight="bold" class="sf" textLength="84.8" lengthAdjust="spacingAndGlyphs" fill="#0a0a0a" stroke="#0a0a0a" stroke-width="0.35">Coimbatore</text>
<rect x="628.0" y="543.0" width="7.0" height="7.0" fill="#000"/>
<rect x="638.0" y="537.2" width="70.8" height="16.8" fill="none" stroke="#fff" stroke-width="2.6" stroke-opacity="0.85"/>
<rect x="638.0" y="537.2" width="70.8" height="16.8" fill="none" stroke="#777" stroke-width="1"/>
<text x="641.5" y="551.5" font-size="14" font-weight="bold" class="sf" textLength="63.2" lengthAdjust="spacingAndGlyphs" fill="#fff" stroke="#fff" stroke-width="2.2" stroke-opacity="0.5" stroke-linejoin="round">Dindigul</text>
<text x="641.5" y="551.5" font-size="14" font-weight="bold" class="sf" textLength="63.2" lengthAdjust="spacingAndGlyphs" fill="#0a0a0a" stroke="#0a0a0a" stroke-width="0.35">Dindigul</text>
<rect x="485.5" y="574.0" width="7.5" height="9.5" fill="#000"/>
<rect x="495.5" y="571.5" width="48.2" height="14.0" fill="none" stroke="#fff" stroke-width="2.6" stroke-opacity="0.85"/>
<rect x="495.5" y="571.5" width="48.2" height="14.0" fill="none" stroke="#777" stroke-width="1"/>
<text x="499.0" y="583.0" font-size="14" font-weight="bold" class="sf" textLength="40.8" lengthAdjust="spacingAndGlyphs" fill="#fff" stroke="#fff" stroke-width="2.2" stroke-opacity="0.5" stroke-linejoin="round">Kochi</text>
<text x="499.0" y="583.0" font-size="14" font-weight="bold" class="sf" textLength="40.8" lengthAdjust="spacingAndGlyphs" fill="#0a0a0a" stroke="#0a0a0a" stroke-width="0.35">Kochi</text>
<rect x="641.8" y="578.5" width="7.5" height="7.0" fill="#000"/>
<rect x="652.2" y="574.5" width="65.2" height="14.0" fill="none" stroke="#fff" stroke-width="2.6" stroke-opacity="0.85"/>
<rect x="652.2" y="574.5" width="65.2" height="14.0" fill="none" stroke="#777" stroke-width="1"/>
<text x="655.8" y="586.0" font-size="14" font-weight="bold" class="sf" textLength="57.8" lengthAdjust="spacingAndGlyphs" fill="#fff" stroke="#fff" stroke-width="2.2" stroke-opacity="0.5" stroke-linejoin="round">Madurai</text>
<text x="655.8" y="586.0" font-size="14" font-weight="bold" class="sf" textLength="57.8" lengthAdjust="spacingAndGlyphs" fill="#0a0a0a" stroke="#0a0a0a" stroke-width="0.35">Madurai</text>
<rect x="596.2" y="619.0" width="7.0" height="7.0" fill="#000"/>
<rect x="606.5" y="613.2" width="101.8" height="16.0" fill="none" stroke="#fff" stroke-width="2.6" stroke-opacity="0.85"/>
<rect x="606.5" y="613.2" width="101.8" height="16.0" fill="none" stroke="#777" stroke-width="1"/>
<text x="610.0" y="626.8" font-size="14" font-weight="bold" class="sf" textLength="94.2" lengthAdjust="spacingAndGlyphs" fill="#fff" stroke="#fff" stroke-width="2.2" stroke-opacity="0.5" stroke-linejoin="round">Rajapalayam</text>
<text x="610.0" y="626.8" font-size="14" font-weight="bold" class="sf" textLength="94.2" lengthAdjust="spacingAndGlyphs" fill="#0a0a0a" stroke="#0a0a0a" stroke-width="0.35">Rajapalayam</text>
<rect x="515.0" y="666.0" width="7.5" height="7.5" fill="#000"/>
<rect x="525.2" y="662.0" width="59.8" height="15.2" fill="none" stroke="#fff" stroke-width="2.6" stroke-opacity="0.85"/>
<rect x="525.2" y="662.0" width="59.8" height="15.2" fill="none" stroke="#777" stroke-width="1"/>
<text x="528.8" y="674.8" font-size="14" font-weight="bold" class="sf" textLength="52.2" lengthAdjust="spacingAndGlyphs" fill="#fff" stroke="#fff" stroke-width="2.2" stroke-opacity="0.5" stroke-linejoin="round">Kollam</text>
<text x="528.8" y="674.8" font-size="14" font-weight="bold" class="sf" textLength="52.2" lengthAdjust="spacingAndGlyphs" fill="#0a0a0a" stroke="#0a0a0a" stroke-width="0.35">Kollam</text>
<rect x="541.8" y="700.2" width="7.5" height="7.0" fill="#000"/>
<rect x="552.2" y="696.2" width="158.5" height="14.0" fill="none" stroke="#fff" stroke-width="2.6" stroke-opacity="0.85"/>
<rect x="552.2" y="696.2" width="158.5" height="14.0" fill="none" stroke="#777" stroke-width="1"/>
<text x="555.8" y="707.8" font-size="14" font-weight="bold" class="sf" textLength="151.0" lengthAdjust="spacingAndGlyphs" fill="#fff" stroke="#fff" stroke-width="2.2" stroke-opacity="0.5" stroke-linejoin="round">Thiruvananthapuram</text>
<text x="555.8" y="707.8" font-size="14" font-weight="bold" class="sf" textLength="151.0" lengthAdjust="spacingAndGlyphs" fill="#0a0a0a" stroke="#0a0a0a" stroke-width="0.35">Thiruvananthapuram</text>
<rect x="645.0" y="676.0" width="7.0" height="7.5" fill="#000"/>
<rect x="655.5" y="672.0" width="92.8" height="15.2" fill="#fff" stroke="#fff" stroke-width="2.6" stroke-opacity="0.85"/>
<rect x="655.5" y="672.0" width="92.8" height="15.2" fill="none" stroke="#777" stroke-width="1"/>
<text x="659.0" y="684.8" font-size="14" font-weight="bold" class="sf" textLength="85.2" lengthAdjust="spacingAndGlyphs" fill="#fff" stroke="#fff" stroke-width="2.2" stroke-opacity="0.5" stroke-linejoin="round">Thootukudi</text>
<text x="659.0" y="684.8" font-size="14" font-weight="bold" class="sf" textLength="85.2" lengthAdjust="spacingAndGlyphs" fill="#0a0a0a" stroke="#0a0a0a" stroke-width="0.35">Thootukudi</text>
<rect x="785.8" y="486.2" width="7.0" height="7.5" fill="#000"/>
<rect x="795.8" y="481.2" width="113.0" height="15.8" fill="#fff" stroke="#fff" stroke-width="2.6" stroke-opacity="0.85"/>
<rect x="795.8" y="481.2" width="113.0" height="15.8" fill="none" stroke="#777" stroke-width="1"/>
<text x="799.2" y="494.5" font-size="14" font-weight="bold" class="sf" textLength="105.5" lengthAdjust="spacingAndGlyphs" fill="#fff" stroke="#fff" stroke-width="2.2" stroke-opacity="0.5" stroke-linejoin="round">Tarangambadi</text>
<text x="799.2" y="494.5" font-size="14" font-weight="bold" class="sf" textLength="105.5" lengthAdjust="spacingAndGlyphs" fill="#0a0a0a" stroke="#0a0a0a" stroke-width="0.35">Tarangambadi</text>
<rect x="690.0" y="505.5" width="7.5" height="7.5" fill="#000"/>
<rect x="700.5" y="502.2" width="113.5" height="13.5" fill="none" stroke="#fff" stroke-width="2.6" stroke-opacity="0.85"/>
<rect x="700.5" y="502.2" width="113.5" height="13.5" fill="none" stroke="#777" stroke-width="1"/>
<text x="704.0" y="513.2" font-size="14" font-weight="bold" class="sf" textLength="106.0" lengthAdjust="spacingAndGlyphs" fill="#fff" stroke="#fff" stroke-width="2.2" stroke-opacity="0.5" stroke-linejoin="round">Tiruchirappalli</text>
<text x="704.0" y="513.2" font-size="14" font-weight="bold" class="sf" textLength="106.0" lengthAdjust="spacingAndGlyphs" fill="#0a0a0a" stroke="#0a0a0a" stroke-width="0.35">Tiruchirappalli</text>
<text x="346.2" y="27" font-size="24" font-weight="bold" fill="#0000ff" class="sf" textLength="672" lengthAdjust="spacingAndGlyphs">24 Hours Rainfall Estimate – Ending at 5:30 AM, 4<tspan font-size="15.5" dy="-8">th</tspan><tspan dy="8"> Nov. 2021</tspan></text>
<text x="360.0" y="63.0" font-size="31.5" font-weight="bold" fill="#ff0000" textLength="642.0" lengthAdjust="spacingAndGlyphs" class="sf" font-style="italic">Fairly widespread Rains to continue over TN</text>
<text x="20.7" y="305.4" font-size="24.5" font-weight="bold" fill="#0000ff" textLength="313.8" lengthAdjust="spacingAndGlyphs">Widespread rains likely to</text>
<text x="20.7" y="340.6" font-size="24.5" font-weight="bold" fill="#0000ff" textLength="303.3" lengthAdjust="spacingAndGlyphs">continue over most parts</text>
<text x="20.7" y="375.8" font-size="24.5" font-weight="bold" fill="#0000ff" textLength="228.3" lengthAdjust="spacingAndGlyphs">of Tamil Nadu with</text>
<text x="20.7" y="411.0" font-size="24.5" font-weight="bold" fill="#0000ff" textLength="309.7" lengthAdjust="spacingAndGlyphs">isolated heavy rains likely</text>
<text x="20.7" y="446.2" font-size="24.5" font-weight="bold" fill="#0000ff" textLength="306.9" lengthAdjust="spacingAndGlyphs">in one or two places over</text>
<text x="20.7" y="481.4" font-size="24.5" font-weight="bold" fill="#0000ff" textLength="313.3" lengthAdjust="spacingAndGlyphs">West Interior TN. Chennai</text>
<text x="20.7" y="516.6" font-size="24.5" font-weight="bold" fill="#0000ff" textLength="229.3" lengthAdjust="spacingAndGlyphs">&amp; suburbs may see</text>
<text x="20.7" y="551.8" font-size="24.5" font-weight="bold" fill="#0000ff" textLength="306.3" lengthAdjust="spacingAndGlyphs">intermittent spell of rains</text>
<text x="20.7" y="587.0" font-size="24.5" font-weight="bold" fill="#0000ff" textLength="314.3" lengthAdjust="spacingAndGlyphs">with heavy spells at times</text>
<rect x="1037" y="244.8" width="215.8" height="86.7" fill="#c6d9f1"/>
<rect x="1037" y="338.8" width="215.8" height="87.2" fill="#8eb4e3"/>
<rect x="1037" y="431.8" width="215.8" height="87" fill="#0070c0"/>
<rect x="1037" y="526" width="215.8" height="85.6" fill="#002060"/>
<text x="1052.5" y="282.9" font-size="18.6" font-weight="bold" fill="#000" textLength="185.3" lengthAdjust="spacingAndGlyphs">Isolated Rains in Few</text>
<text x="1118.4" y="308.7" font-size="18.6" font-weight="bold" fill="#000" textLength="53.2" lengthAdjust="spacingAndGlyphs">Places</text>
<text x="1055.0" y="376.6" font-size="18.6" font-weight="bold" fill="#000" textLength="179.0" lengthAdjust="spacingAndGlyphs">Scattered Rains with</text>
<text x="1054.4" y="402.4" font-size="18.6" font-weight="bold" fill="#000" textLength="182.3" lengthAdjust="spacingAndGlyphs">Isolated Heavy spells</text>
<text x="1051.7" y="469.7" font-size="18.6" font-weight="bold" fill="#ffff00" textLength="187.2" lengthAdjust="spacingAndGlyphs">Rains in Many Places,</text>
<text x="1057.6" y="495.7" font-size="18.6" font-weight="bold" fill="#ffff00" textLength="174.8" lengthAdjust="spacingAndGlyphs">Heavy in Few Places</text>
<text x="1054.4" y="550.8" font-size="18.6" font-weight="bold" fill="#ffff00" textLength="182.3" lengthAdjust="spacingAndGlyphs">Heavy Rains in Many</text>
<text x="1052.5" y="576.6" font-size="18.6" font-weight="bold" fill="#ffff00" textLength="185.3" lengthAdjust="spacingAndGlyphs">Places, Very Heavy in</text>
<text x="1098.7" y="601.8" font-size="18.6" font-weight="bold" fill="#ffff00" textLength="94.0" lengthAdjust="spacingAndGlyphs">Few Places</text>
<rect x="1037.5" y="637.5" width="216" height="74" fill="#fff" stroke="#000" stroke-width="1"/>
<text x="1067.0" y="658.8" font-size="15.2" font-weight="bold" fill="#000" textLength="177.0" lengthAdjust="spacingAndGlyphs">Not an Official Forecast.</text>
<text x="1085.5" y="680.0" font-size="15.2" font-weight="bold" fill="#000" textLength="158.5" lengthAdjust="spacingAndGlyphs">Please follow IMD for</text>
<text x="1124.2" y="701.1" font-size="15.2" font-weight="bold" fill="#000" textLength="119.8" lengthAdjust="spacingAndGlyphs">Official Forecast</text>
<defs><linearGradient id="cg" x1="0" y1="0" x2="0" y2="1"><stop offset="0" stop-color="#2196ff"/><stop offset="1" stop-color="#1583f5"/></linearGradient></defs>
<circle cx="52" cy="49.5" r="47.5" fill="url(#cg)"/>
<circle cx="71" cy="44" r="44.3" fill="#fff"/>
<g fill="#ffe600" stroke="#f5b021" stroke-width="0.9" stroke-linejoin="round">
<path d="M87.5 10.6 L89.6 4.1 L91.7 10.6Z"/>
<path d="M94.6 12.0 L101.0 9.7 L97.2 15.3Z"/>
<path d="M82.0 15.3 L78.2 9.7 L84.6 12.0Z"/>
<path d="M97.6 16.5 L104.1 18.6 L97.6 20.7Z"/>
<path d="M97.0 22.4 L100.4 28.3 L94.1 25.6Z"/>
<circle cx="89.6" cy="18.6" r="7"/>
</g>
<path fill="#1b8dff" d="M54.5 33.8 A5.3 5.3 0 0 1 55.5 23.2 A9.8 9.8 0 0 1 74.5 18.5 A8 8 0 0 1 87 22.3 A5.9 5.9 0 0 1 88 33.8Z"/>
<circle cx="47.6" cy="37.3" r="0.8" fill="#2f7be0"/>
<circle cx="52.2" cy="38.2" r="0.8" fill="#2f7be0"/>
<circle cx="56.9" cy="37.3" r="0.8" fill="#2f7be0"/>
<circle cx="61.6" cy="38.2" r="0.8" fill="#2f7be0"/>
<circle cx="66.2" cy="37.3" r="0.8" fill="#2f7be0"/>
<circle cx="70.8" cy="38.2" r="0.8" fill="#2f7be0"/>
<circle cx="75.5" cy="37.3" r="0.8" fill="#2f7be0"/>
<circle cx="80.2" cy="38.2" r="0.8" fill="#2f7be0"/>
<circle cx="84.8" cy="37.3" r="0.8" fill="#2f7be0"/>
<circle cx="89.5" cy="38.2" r="0.8" fill="#2f7be0"/>
<g transform="translate(0 63) skewX(-14) translate(0 -63)">
<path fill="#f7c23c" fill-rule="evenodd" d="M33 41.3 H47.5 Q50 41.3 50 44 V60 Q50 63 47.5 63 H33 Q30.6 63 30.6 60 V44 Q30.6 41.3 33 41.3Z M37.2 47.6 H44.2 V57.4 H37.2Z"/>
<path fill="#2ecb5c" d="M52 63 V44 Q52 41.3 55 41.3 H72 Q75.5 41.3 75.5 45 V63 H69.3 V48.2 H66.6 V63 H60.7 V48.2 H58 V63Z"/>
<path fill="#1b8dff" d="M78.6 41.3 H85 V49.5 L91.2 41.3 H97.9 L89.8 51.2 L97.6 63 H90.3 L86 55.3 L85 56.4 V63 H78.6Z"/>
</g>
<text x="49" y="72.8" font-size="6.3" font-weight="bold" fill="#2b6fd6" textLength="35.5" lengthAdjust="spacingAndGlyphs">Chennaiyil</text>
<text x="85.6" y="72.8" font-size="6.3" font-weight="bold" fill="#f29a2e" textLength="12.4" lengthAdjust="spacingAndGlyphs">Oru</text>
<text x="49" y="79.8" font-size="6.3" font-weight="bold" fill="#2fbf5c" textLength="48.5" lengthAdjust="spacingAndGlyphs">Mazhaikkaalam</text>
</svg>
</body></html>
